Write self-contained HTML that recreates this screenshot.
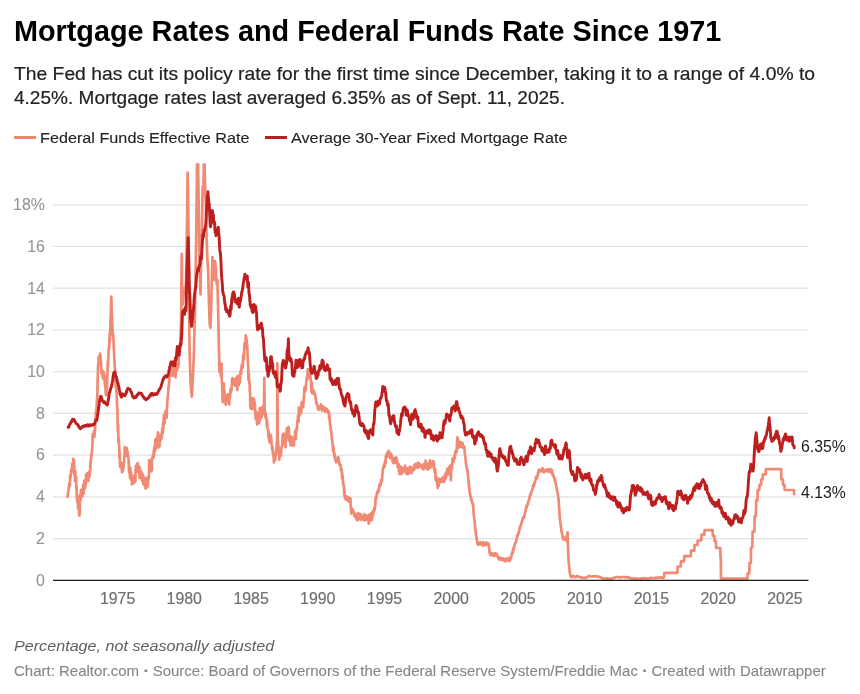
<!DOCTYPE html>
<html lang="en"><head><meta charset="utf-8"><title>Mortgage Rates and Federal Funds Rate Since 1971</title>
<style>
html,body{margin:0;padding:0;background:#fff;}
body{width:860px;height:694px;position:relative;overflow:hidden;font-family:"Liberation Sans",Arial,sans-serif;}
.abs{position:absolute;white-space:nowrap;margin:0;transform-origin:0 50%;}
h1.abs{left:14px;top:13.9px;font-size:29.8px;line-height:34px;font-weight:700;color:#000;}
.desc{-webkit-text-stroke:0.2px #222;left:14px;font-size:18.4px;line-height:24px;color:#222;}
.leg{-webkit-text-stroke:0.1px #222;font-size:15.4px;line-height:20px;color:#222;top:127.7px;}
.sw{position:absolute;height:2.8px;top:135.8px;width:21.6px;border-radius:0.5px;}
.note{left:14px;top:635.6px;font-size:15.2px;line-height:20px;font-style:italic;color:#606060;}
.bl{display:inline-block;width:4.83px;text-align:center;font-size:9.8px;vertical-align:1.5px;line-height:1;}
.by{-webkit-text-stroke:0.1px #868686;left:14px;top:662.7px;font-size:13.8px;line-height:18px;color:#868686;}
svg{position:absolute;left:0;top:0;}
svg text{font-family:"Liberation Sans",Arial,sans-serif;}
.tick{font-size:15.9px;fill:#969696;stroke:#969696;stroke-width:0.1px;}
.xt{fill:#707070 !important;stroke:#707070 !important;stroke-width:0.2px !important;}
.val{font-size:15.8px;fill:#1c1c1c;stroke:#fff;stroke-width:4px;stroke-linejoin:round;paint-order:stroke fill;}
</style></head><body>
<h1 class="abs" id="title" style="transform:scaleX(0.9664)">Mortgage Rates and Federal Funds Rate Since 1971</h1>
<p class="abs desc" id="d1" style="top:62.2px;transform:scaleX(1.049)">The Fed has cut its policy rate for the first time since December, taking it to a range of 4.0% to</p>
<p class="abs desc" id="d2" style="top:86.2px;transform:scaleX(1.035)">4.25%. Mortgage rates last averaged 6.35% as of Sept. 11, 2025.</p>
<span class="sw" style="left:14px;background:#ee866c"></span>
<span class="abs leg" id="l1" style="left:40px;transform:scaleX(1.053)">Federal Funds Effective Rate</span>
<span class="sw" style="left:265px;background:#b4201f"></span>
<span class="abs leg" id="l2" style="left:290.5px;transform:scaleX(1.053)">Average 30-Year Fixed Mortgage Rate</span>
<svg width="860" height="694" viewBox="0 0 860 694">
<defs><clipPath id="cp"><rect x="50" y="163.2" width="800" height="430"/></clipPath></defs>
<line x1="53" x2="808.5" y1="538.6" y2="538.6" stroke="#e2e2e2" stroke-width="1.2"/>
<line x1="53" x2="808.5" y1="496.9" y2="496.9" stroke="#e2e2e2" stroke-width="1.2"/>
<line x1="53" x2="808.5" y1="455.1" y2="455.1" stroke="#e2e2e2" stroke-width="1.2"/>
<line x1="53" x2="808.5" y1="413.4" y2="413.4" stroke="#e2e2e2" stroke-width="1.2"/>
<line x1="53" x2="808.5" y1="371.7" y2="371.7" stroke="#e2e2e2" stroke-width="1.2"/>
<line x1="53" x2="808.5" y1="330.0" y2="330.0" stroke="#e2e2e2" stroke-width="1.2"/>
<line x1="53" x2="808.5" y1="288.2" y2="288.2" stroke="#e2e2e2" stroke-width="1.2"/>
<line x1="53" x2="808.5" y1="246.5" y2="246.5" stroke="#e2e2e2" stroke-width="1.2"/>
<line x1="53" x2="808.5" y1="204.8" y2="204.8" stroke="#e2e2e2" stroke-width="1.2"/>

<text x="44.9" y="585.6" text-anchor="end" class="tick">0</text>
<text x="44.9" y="543.9" text-anchor="end" class="tick">2</text>
<text x="44.9" y="502.2" text-anchor="end" class="tick">4</text>
<text x="44.9" y="460.4" text-anchor="end" class="tick">6</text>
<text x="44.9" y="418.7" text-anchor="end" class="tick">8</text>
<text x="44.9" y="377.0" text-anchor="end" class="tick">10</text>
<text x="44.9" y="335.3" text-anchor="end" class="tick">12</text>
<text x="44.9" y="293.5" text-anchor="end" class="tick">14</text>
<text x="44.9" y="251.8" text-anchor="end" class="tick">16</text>
<text x="44.9" y="210.1" text-anchor="end" class="tick">18%</text>
<text x="117.6" y="603.8" text-anchor="middle" class="tick xt">1975</text>
<text x="184.3" y="603.8" text-anchor="middle" class="tick xt">1980</text>
<text x="251.1" y="603.8" text-anchor="middle" class="tick xt">1985</text>
<text x="317.8" y="603.8" text-anchor="middle" class="tick xt">1990</text>
<text x="384.5" y="603.8" text-anchor="middle" class="tick xt">1995</text>
<text x="451.2" y="603.8" text-anchor="middle" class="tick xt">2000</text>
<text x="518.0" y="603.8" text-anchor="middle" class="tick xt">2005</text>
<text x="584.7" y="603.8" text-anchor="middle" class="tick xt">2010</text>
<text x="651.4" y="603.8" text-anchor="middle" class="tick xt">2015</text>
<text x="718.2" y="603.8" text-anchor="middle" class="tick xt">2020</text>
<text x="784.9" y="603.8" text-anchor="middle" class="tick xt">2025</text>

<g clip-path="url(#cp)" fill="none" stroke-linejoin="round" stroke-linecap="round">
<path d="M67.6,496.9L68.1,492.7L68.6,489.6L69.2,484.3L69.7,482.3L69.9,486.0L70.2,475.4L70.4,475.2L70.7,477.4L70.9,474.0L71.2,469.8L71.4,470.4L71.7,469.1L72.0,472.0L72.2,464.1L72.5,464.3L72.7,463.4L73.0,469.5L73.2,458.9L73.5,464.0L73.8,466.4L74.0,460.0L74.3,468.6L74.5,475.0L74.8,473.2L75.0,480.9L75.3,471.1L75.6,477.4L75.8,479.9L76.1,476.8L76.3,489.6L76.6,486.0L76.8,498.4L77.1,497.2L77.3,502.1L77.6,496.2L77.9,498.3L78.1,508.4L78.4,505.5L78.6,509.9L78.9,508.4L79.1,513.8L79.4,515.6L79.7,513.4L79.9,503.5L80.2,494.6L80.4,499.0L80.7,500.0L80.9,490.2L81.2,494.2L81.5,493.0L81.7,492.0L82.0,492.8L82.2,492.9L82.5,496.2L82.7,488.9L83.0,490.0L83.3,484.8L83.5,489.1L83.8,493.5L84.0,487.0L84.3,480.6L84.5,487.1L84.8,488.4L85.0,488.2L85.3,486.5L85.6,482.8L85.8,484.5L86.1,474.9L86.3,480.5L86.6,478.9L86.8,474.1L87.1,473.4L87.4,478.3L87.6,475.7L87.9,473.5L88.1,475.8L88.4,481.0L88.6,472.8L88.9,471.9L89.2,473.4L89.4,477.0L89.7,473.2L89.9,473.2L90.2,471.0L90.4,463.8L90.7,460.1L91.0,460.0L91.2,457.5L91.5,454.1L91.7,453.3L92.0,450.5L92.2,449.4L92.5,444.2L92.7,433.9L93.0,436.0L93.3,437.6L93.5,435.6L93.8,435.2L94.0,431.0L94.3,430.8L94.5,436.7L94.8,430.1L95.1,430.2L95.3,420.1L95.6,420.8L95.8,412.2L96.1,416.2L96.3,412.5L96.6,407.4L96.9,401.8L97.1,398.2L97.4,395.0L97.6,381.1L97.9,372.5L98.1,364.8L98.4,365.0L98.7,356.5L98.9,363.2L99.2,364.2L99.4,358.2L99.7,358.6L99.9,357.9L100.2,353.7L100.4,355.0L100.7,359.2L101.0,360.8L101.2,366.8L101.5,373.5L101.7,372.6L102.0,373.0L102.2,370.5L102.5,374.7L102.8,377.4L103.0,371.4L103.3,376.6L103.5,379.0L103.8,372.0L104.0,377.0L104.3,374.4L104.6,379.3L104.8,382.7L105.1,386.4L105.3,387.3L105.6,389.7L105.8,394.8L106.1,392.9L106.4,395.3L106.6,388.2L106.9,392.5L107.1,384.0L107.4,375.5L107.6,368.6L107.9,360.9L108.1,366.2L108.4,354.7L108.7,349.3L108.9,346.2L109.2,348.7L109.4,341.0L109.7,333.2L109.9,341.4L110.2,331.8L110.4,323.7L110.9,309.1L111.3,296.6L111.7,311.2L112.3,323.7L112.8,335.0L113.0,335.6L113.3,335.2L113.5,339.7L113.8,350.2L114.0,349.7L114.3,359.7L114.6,363.0L114.8,369.4L115.1,369.3L115.3,375.9L115.6,385.4L115.8,386.8L116.1,383.7L116.4,391.4L116.6,391.2L116.9,398.5L117.1,407.1L117.4,407.7L117.6,420.8L117.9,431.7L118.2,424.7L118.4,442.2L118.7,438.0L118.9,441.3L119.2,448.2L119.4,458.0L119.7,452.4L120.0,463.9L120.2,467.0L120.5,466.0L120.7,462.4L121.0,464.3L121.2,462.8L121.5,467.3L121.7,467.6L122.0,472.2L122.3,470.7L122.5,469.0L122.8,471.3L123.0,467.2L123.3,469.1L123.5,467.6L123.8,463.5L124.1,461.6L124.3,456.4L124.6,455.1L124.8,447.2L125.1,453.6L125.3,453.4L125.6,455.9L125.9,452.2L126.1,449.6L126.4,453.9L126.6,451.1L126.9,448.0L127.1,451.2L127.4,454.6L127.7,451.6L127.9,456.5L128.2,457.6L128.4,457.9L128.7,460.8L128.9,468.7L129.2,472.2L129.4,470.5L129.7,472.0L130.0,478.0L130.2,467.5L130.5,472.3L130.7,471.5L131.0,479.4L131.2,472.8L131.5,480.7L131.8,479.5L132.0,484.3L132.3,480.7L132.5,481.4L132.8,481.2L133.0,478.8L133.3,479.7L133.6,476.3L133.8,480.9L134.1,482.8L134.3,479.6L134.6,477.6L134.8,475.6L135.1,474.8L135.4,481.1L135.6,471.7L135.9,465.8L136.1,469.1L136.4,470.1L136.6,466.5L136.9,468.3L137.1,464.1L137.4,467.1L137.7,463.2L137.9,467.0L138.2,471.9L138.4,467.6L138.7,466.6L138.9,471.7L139.2,471.3L139.5,477.8L139.7,467.3L140.0,472.4L140.2,477.7L140.5,477.1L140.7,473.0L141.0,470.8L141.3,474.8L141.5,474.0L141.8,479.6L142.0,480.7L142.3,473.6L142.5,475.3L142.8,478.1L143.1,475.2L143.3,484.1L143.6,483.7L143.8,479.9L144.1,477.4L144.3,483.7L144.6,478.3L144.8,486.1L145.1,482.7L145.4,484.0L145.6,488.4L145.9,481.9L146.1,479.5L146.4,483.1L146.6,482.8L146.9,477.8L147.2,486.6L147.4,487.2L147.7,484.2L147.9,485.8L148.2,477.1L148.4,477.6L148.7,478.5L149.0,474.7L149.2,460.1L149.5,470.6L149.7,470.9L150.0,467.2L150.2,465.9L150.5,467.1L150.8,470.7L151.0,471.4L151.3,465.4L151.5,467.4L151.8,470.4L152.0,458.7L152.3,457.7L152.5,458.8L152.8,457.3L153.1,454.5L153.3,456.4L153.6,457.5L153.8,450.6L154.1,454.9L154.3,447.2L154.6,451.7L154.9,445.7L155.1,445.6L155.4,439.0L155.6,448.3L155.9,449.3L156.1,446.5L156.4,447.8L156.7,445.8L156.9,442.2L157.2,440.6L157.4,437.0L157.7,444.3L157.9,432.4L158.2,433.9L158.5,440.8L158.7,447.4L159.0,439.7L159.2,438.7L159.5,446.5L159.7,438.5L160.0,439.4L160.2,441.3L160.5,436.4L160.8,434.7L161.0,439.2L161.3,436.3L161.5,438.8L161.8,436.9L162.0,431.8L162.3,428.0L162.6,429.4L162.8,433.4L163.1,422.9L163.3,429.0L163.6,422.1L163.8,415.5L164.1,420.5L164.4,423.4L164.6,423.3L164.9,413.5L165.1,416.3L165.4,413.4L165.6,411.0L165.9,413.1L166.2,412.3L166.4,412.4L166.7,417.6L166.9,410.4L167.2,403.4L167.4,401.3L167.7,396.9L167.9,396.3L168.2,392.9L168.5,386.9L168.7,388.6L169.0,382.8L169.2,383.3L169.5,372.6L169.7,374.4L170.0,371.6L170.3,366.8L170.5,367.4L170.8,371.0L171.0,368.0L171.3,375.2L171.5,368.8L171.8,369.8L172.1,375.7L172.3,365.9L172.6,372.8L172.8,368.1L173.1,371.6L173.3,366.7L173.6,365.5L173.8,372.7L174.1,375.4L174.4,371.1L174.6,368.3L174.9,372.7L175.1,372.4L175.4,367.6L175.6,377.4L175.9,369.3L176.2,371.1L176.4,365.3L176.7,368.5L176.9,369.5L177.2,366.5L177.4,369.4L177.7,363.7L178.0,367.7L178.2,364.6L178.5,364.9L178.7,350.7L179.0,355.9L179.3,352.9L180.3,342.5L181.1,321.6L181.5,275.7L181.8,253.8L182.1,284.1L182.5,304.9L183.3,298.7L183.9,288.2L184.7,294.5L185.4,290.3L186.1,279.9L186.6,246.5L187.1,217.3L187.6,172.5L188.1,200.6L188.6,234.0L189.1,317.4L189.7,355.0L190.5,382.1L191.3,392.5L191.8,396.7L192.6,384.2L193.3,367.5L193.9,352.9L194.5,327.9L195.0,309.1L195.7,269.5L196.2,240.3L196.6,202.7L197.0,171.4L197.3,138.0L197.9,150.6L198.3,179.8L198.9,217.3L199.4,248.6L199.9,275.7L200.5,294.5L201.0,263.2L201.7,252.8L202.3,206.9L202.7,186.0L203.3,194.4L203.7,173.5L204.2,142.2L204.7,173.5L205.3,192.3L206.0,209.0L206.6,238.2L207.3,257.0L208.1,269.5L208.9,300.8L209.7,323.7L210.4,327.9L211.0,311.2L211.7,286.2L212.4,257.0L212.9,277.8L213.7,279.9L214.4,267.4L215.0,261.1L215.8,267.4L216.6,284.1L217.4,279.9L218.1,307.0L218.8,342.5L219.4,371.7L220.4,363.3L220.8,376.2L221.1,367.8L221.3,372.4L221.6,363.8L221.8,382.2L222.1,382.5L222.4,393.4L222.6,401.2L222.9,402.2L223.1,387.0L223.4,400.2L223.6,384.6L223.9,383.6L224.2,397.4L224.4,391.1L224.7,397.2L224.9,395.5L225.2,400.8L225.4,397.7L225.7,404.8L226.0,400.4L226.2,403.5L226.5,401.1L226.7,397.3L227.0,397.6L227.2,397.5L227.5,394.7L227.7,394.3L228.0,401.5L228.3,394.9L228.5,395.3L228.8,400.9L229.0,397.9L229.3,404.4L229.5,394.3L229.8,398.3L230.1,396.0L230.3,390.1L230.6,392.8L230.8,388.5L231.1,392.1L231.3,388.6L231.6,389.5L231.9,384.6L232.1,379.6L232.4,381.3L232.6,378.2L232.9,384.6L233.1,384.7L233.4,383.8L233.7,380.9L233.9,381.9L234.2,383.0L234.4,380.7L234.7,383.2L234.9,382.6L235.2,378.9L235.4,385.8L235.7,383.9L236.0,379.9L236.2,384.7L236.5,382.1L236.7,385.8L237.0,376.6L237.2,390.1L237.5,386.0L237.8,385.3L238.0,375.9L238.3,379.7L238.5,381.6L238.8,384.9L239.0,379.2L239.3,379.9L239.6,381.5L239.8,382.7L240.1,379.8L240.3,373.9L240.6,371.9L240.8,370.9L241.1,369.8L241.3,373.4L241.6,365.5L241.9,368.9L242.1,365.2L242.4,363.7L242.6,367.3L242.9,366.1L243.1,355.8L243.4,354.3L243.7,354.1L243.9,359.3L244.2,348.6L244.4,345.6L244.7,343.1L244.9,348.3L245.2,345.6L245.5,342.3L245.7,335.4L246.0,339.6L246.2,336.6L246.5,341.6L246.7,339.9L247.0,348.3L247.3,345.4L247.5,354.6L247.8,360.0L248.0,363.8L248.3,368.1L248.5,380.3L248.8,373.9L249.0,378.1L249.3,383.7L249.6,382.3L249.8,391.4L250.1,392.7L250.3,404.1L250.6,408.4L250.8,401.6L251.1,398.6L251.4,403.8L251.6,403.1L251.9,407.0L252.1,409.1L252.4,404.7L252.6,398.2L252.9,408.9L253.2,404.0L253.4,408.3L253.7,401.2L253.9,398.9L254.2,407.4L254.4,406.2L254.7,401.9L255.0,408.1L255.2,413.4L255.5,415.1L255.7,418.8L256.0,411.0L256.2,417.9L256.5,414.1L256.7,416.8L257.0,424.0L257.3,424.4L257.5,418.4L257.8,418.8L258.0,416.7L258.3,421.4L258.5,412.8L258.8,418.6L259.1,423.2L259.3,417.6L259.6,414.0L259.8,408.3L260.1,416.5L260.3,419.6L260.6,407.9L260.9,414.1L261.1,415.2L261.4,417.5L261.6,417.0L261.9,408.4L262.1,413.9L262.4,414.5L262.7,414.2L262.9,406.4L263.2,412.6L263.4,407.4L263.7,407.6L264.0,409.2L264.3,377.9L264.7,411.3L265.0,410.7L265.2,414.9L265.5,417.5L265.7,413.9L266.0,416.8L266.2,417.9L266.5,419.3L266.8,426.1L267.0,420.4L267.3,424.3L267.5,427.7L267.8,429.0L268.0,429.0L268.3,434.3L268.6,438.0L268.8,431.9L269.1,437.9L269.3,439.6L269.6,442.4L269.8,436.8L270.1,440.0L270.4,437.9L270.6,435.0L270.9,438.1L271.1,436.6L271.4,440.7L271.6,444.8L271.9,446.4L272.1,448.9L272.4,446.9L272.7,450.9L272.9,453.9L273.2,451.0L273.4,454.9L273.7,458.1L273.9,462.5L274.2,456.2L274.5,457.1L274.7,457.9L275.0,459.7L275.2,460.1L275.5,457.2L275.7,454.7L276.0,455.0L276.3,452.0L276.5,448.9L276.8,442.0L277.1,448.9L277.4,363.3L277.8,442.6L278.1,441.1L278.3,446.6L278.6,448.4L278.8,453.2L279.1,448.4L279.3,459.6L279.6,454.3L279.8,453.9L280.1,449.8L280.4,452.5L280.6,455.3L280.9,455.6L281.1,452.2L281.4,448.2L281.6,447.2L281.9,445.8L282.2,445.1L282.4,441.2L282.7,434.8L282.9,441.5L283.2,438.3L283.4,433.5L283.7,437.7L284.0,441.7L284.2,438.7L284.5,444.1L284.7,442.3L285.0,437.8L285.2,436.0L285.5,447.3L285.8,438.5L286.0,433.6L286.3,440.2L286.5,435.1L286.8,428.6L287.0,432.9L287.3,428.1L287.5,429.4L287.8,435.3L288.1,427.4L288.3,428.8L288.6,428.0L288.8,427.0L289.1,434.6L289.3,441.0L289.6,439.0L289.9,439.4L290.1,436.3L290.4,444.1L290.6,442.9L290.9,445.5L291.1,436.4L291.4,438.2L291.7,440.0L291.9,441.4L292.2,442.1L292.4,444.5L292.7,443.7L292.9,444.7L293.2,438.4L293.5,442.0L293.7,445.8L294.0,444.5L294.2,437.2L294.5,438.3L294.7,437.4L295.0,434.6L295.2,430.6L295.5,438.9L295.8,436.3L296.0,438.6L296.3,429.4L296.5,430.3L296.8,429.2L297.0,427.5L297.3,420.9L297.6,422.6L297.8,422.7L298.1,415.6L298.3,422.1L298.6,421.6L298.8,407.5L299.1,416.1L299.4,415.4L299.6,415.1L299.9,412.2L300.1,408.3L300.4,407.5L300.6,407.5L300.9,409.7L301.2,413.2L301.4,406.7L301.7,402.1L301.9,403.3L302.2,407.2L302.4,403.8L302.7,407.5L302.9,405.0L303.2,406.9L303.5,401.9L303.7,398.4L304.0,397.5L304.2,392.7L304.5,387.2L304.7,387.4L305.0,391.1L305.3,391.3L305.5,389.9L305.8,389.8L306.0,385.3L306.3,382.1L306.5,380.5L306.8,378.1L307.1,375.9L307.3,375.3L307.6,377.4L307.8,369.2L308.1,371.5L308.3,378.1L308.6,378.2L308.8,377.3L309.1,375.3L309.4,371.4L309.6,373.2L309.9,374.3L310.1,375.6L310.4,376.9L310.6,379.5L310.9,381.8L311.2,385.1L311.4,392.0L311.7,388.0L311.9,382.7L312.2,391.8L312.4,393.2L312.7,390.9L313.0,392.5L313.2,393.2L313.5,390.1L313.7,391.3L314.0,391.3L314.2,394.1L314.5,393.4L314.8,394.5L315.0,394.8L315.3,395.6L315.5,397.0L315.8,399.8L316.0,400.5L316.3,403.9L316.5,401.8L316.8,402.2L317.1,404.3L317.3,405.5L317.6,405.5L317.8,408.3L318.1,407.1L318.3,408.2L318.6,410.0L318.9,408.4L319.1,406.9L319.4,406.9L319.6,406.8L319.9,408.3L320.1,408.4L320.4,408.3L320.7,406.7L320.9,404.3L321.2,405.7L321.4,405.6L321.7,406.0L321.9,410.7L322.2,409.1L322.5,409.8L322.7,407.7L323.0,406.8L323.2,409.7L323.5,408.2L323.7,406.9L324.0,408.3L324.2,409.2L324.5,409.9L324.8,408.3L325.0,411.6L325.3,408.7L325.5,410.3L325.8,409.5L326.0,408.4L326.3,411.5L326.6,411.3L326.8,409.2L327.1,411.0L327.3,410.4L327.6,410.0L327.8,410.0L328.1,412.5L328.4,411.7L328.6,411.7L328.9,412.0L329.1,418.3L329.4,415.0L329.6,417.7L329.9,423.0L330.2,425.9L330.4,425.6L330.7,429.1L330.9,430.2L331.2,430.7L331.4,434.9L331.7,435.8L331.9,438.4L332.2,440.8L332.5,442.4L332.7,445.7L333.0,449.9L333.2,451.4L333.5,447.1L333.7,451.0L334.0,452.2L334.3,456.0L334.5,453.5L334.8,457.5L335.0,457.9L335.3,460.1L335.5,459.2L335.8,458.8L336.1,462.3L336.3,461.0L336.6,458.9L336.8,460.5L337.1,459.9L337.3,458.9L337.6,460.4L337.9,457.0L338.1,460.4L338.4,457.5L338.6,457.9L338.9,462.7L339.1,461.1L339.4,462.9L339.6,465.0L339.9,464.5L340.2,465.4L340.4,464.6L340.7,465.1L340.9,470.2L341.2,470.1L341.4,469.5L341.7,469.4L342.0,478.1L342.2,473.1L342.5,477.7L342.7,476.4L343.0,482.0L343.2,484.6L343.5,484.8L343.8,484.5L344.0,488.5L344.3,494.9L344.5,491.1L344.8,497.3L345.0,498.1L345.3,498.3L345.6,499.4L345.8,498.1L346.1,497.5L346.3,497.0L346.6,496.3L346.8,497.3L347.1,499.8L347.3,498.0L347.6,497.1L347.9,498.3L348.1,501.0L348.4,501.3L348.6,500.4L348.9,499.1L349.1,498.0L349.4,501.4L349.7,501.3L349.9,498.3L350.2,498.4L350.4,498.8L350.7,507.1L350.9,505.5L351.2,513.7L351.5,508.7L351.7,512.4L352.0,512.2L352.2,512.3L352.5,509.3L352.7,512.1L353.0,509.8L353.3,511.1L353.5,511.8L353.8,512.0L354.0,513.1L354.3,516.0L354.5,513.1L354.8,513.7L355.0,515.9L355.3,514.3L355.6,514.0L355.8,518.2L356.1,516.1L356.3,517.2L356.6,518.9L356.8,517.4L357.1,520.4L357.4,520.0L357.6,518.3L357.9,517.6L358.1,517.2L358.4,513.1L358.6,518.2L358.9,516.7L359.2,519.4L359.4,516.2L359.7,514.8L359.9,514.5L360.2,517.8L360.4,516.9L360.7,514.1L361.0,517.1L361.2,515.7L361.5,519.8L361.7,516.0L362.0,516.4L362.2,517.3L362.5,519.5L362.7,518.1L363.0,517.3L363.3,516.9L363.5,517.4L363.8,517.4L364.0,516.5L364.3,514.1L364.5,520.4L364.8,519.1L365.1,519.4L365.3,517.9L365.6,520.0L365.8,515.9L366.1,516.9L366.3,517.4L366.6,517.9L366.9,516.0L367.1,515.7L367.4,515.4L367.6,517.8L367.9,515.7L368.1,520.2L368.4,515.6L368.7,523.6L368.9,518.8L369.2,519.7L369.4,515.9L369.7,520.3L369.9,514.4L370.2,521.0L370.4,514.6L370.7,517.6L371.0,517.9L371.2,516.7L371.5,513.0L371.7,515.0L372.0,519.9L372.2,512.5L372.5,513.3L372.8,515.9L373.0,510.8L373.3,514.1L373.5,511.0L373.8,510.5L374.0,511.5L374.3,508.0L374.6,510.1L374.8,506.7L375.1,507.1L375.3,504.2L375.6,498.1L375.8,499.3L376.1,499.4L376.3,496.1L376.6,496.2L376.9,493.5L377.1,492.1L377.4,491.5L377.6,491.4L377.9,492.6L378.1,490.6L378.4,489.4L378.7,491.6L378.9,489.5L379.2,488.3L379.4,485.0L379.7,484.2L379.9,486.3L380.2,483.6L380.5,485.3L380.7,483.4L381.0,481.4L381.2,480.1L381.5,479.4L381.7,481.6L382.0,481.0L382.3,475.2L382.5,473.7L382.8,470.0L383.0,469.1L383.3,467.3L383.5,466.7L383.8,465.5L384.0,467.3L384.3,464.2L384.6,466.7L384.8,465.2L385.1,461.4L385.3,462.4L385.6,463.4L385.8,456.5L386.1,455.6L386.4,454.5L386.6,456.0L386.9,455.4L387.1,456.2L387.4,456.8L387.6,452.2L387.9,455.5L388.2,455.3L388.4,454.9L388.7,450.8L388.9,452.8L389.2,455.4L389.4,454.9L389.7,454.0L390.0,453.4L390.2,458.1L390.5,453.4L390.7,455.8L391.0,457.4L391.2,457.6L391.5,456.1L391.7,455.0L392.0,458.5L392.3,458.3L392.5,461.4L392.8,459.5L393.0,458.8L393.3,462.9L393.5,460.7L393.8,458.0L394.1,462.7L394.3,460.3L394.6,458.6L394.8,463.1L395.1,460.9L395.3,459.8L395.6,458.1L395.9,462.0L396.1,457.3L396.4,459.4L396.6,458.7L396.9,459.7L397.1,462.2L397.4,462.6L397.7,467.0L397.9,466.5L398.2,466.0L398.4,465.0L398.7,464.2L398.9,470.9L399.2,469.8L399.4,473.3L399.7,474.0L400.0,467.9L400.2,470.1L400.5,466.7L400.7,467.4L401.0,471.8L401.2,474.0L401.5,467.1L401.8,472.2L402.0,473.5L402.3,469.9L402.5,470.9L402.8,472.3L403.0,471.5L403.3,470.4L403.6,470.5L403.8,469.0L404.1,470.8L404.3,470.2L404.6,467.8L404.8,467.7L405.1,465.6L405.4,469.0L405.6,469.6L405.9,472.4L406.1,468.3L406.4,473.8L406.6,470.4L406.9,472.1L407.1,469.4L407.4,468.4L407.7,473.2L407.9,470.8L408.2,474.0L408.4,468.4L408.7,471.5L408.9,473.3L409.2,471.3L409.5,467.2L409.7,466.8L410.0,467.3L410.2,471.3L410.5,470.2L410.7,466.9L411.0,471.6L411.3,471.0L411.5,472.4L411.8,473.0L412.0,468.8L412.3,470.2L412.5,470.8L412.8,470.8L413.1,469.5L413.3,467.6L413.6,469.5L413.8,469.1L414.1,469.6L414.3,465.1L414.6,467.5L414.8,468.7L415.1,465.9L415.4,465.4L415.6,463.9L415.9,463.6L416.1,466.9L416.4,466.9L416.6,465.7L416.9,467.1L417.2,464.7L417.4,463.5L417.7,464.5L417.9,467.8L418.2,467.2L418.4,462.7L418.7,467.0L419.0,463.6L419.2,463.7L419.5,465.4L419.7,466.6L420.0,464.3L420.2,466.4L420.5,465.1L420.8,464.6L421.0,466.3L421.3,465.6L421.5,466.0L421.8,467.9L422.0,465.8L422.3,466.6L422.5,468.7L422.8,465.8L423.1,465.7L423.3,466.4L423.6,469.3L423.8,464.0L424.1,464.2L424.3,464.0L424.6,464.3L424.9,467.0L425.1,464.1L425.4,466.3L425.6,460.7L425.9,466.0L426.1,464.0L426.4,468.3L426.7,467.7L426.9,466.6L427.2,464.4L427.4,464.8L427.7,465.5L427.9,469.7L428.2,464.3L428.5,468.3L428.7,463.4L429.0,462.7L429.2,464.5L429.5,464.0L429.7,467.9L430.0,460.4L430.2,464.5L430.5,462.7L430.8,466.0L431.0,464.6L431.3,466.8L431.5,465.1L431.8,464.7L432.0,464.2L432.3,462.0L432.6,463.7L432.8,464.1L433.1,464.6L433.3,461.1L433.6,466.1L433.8,463.0L434.1,469.7L434.4,469.8L434.6,469.5L434.9,472.7L435.1,468.9L435.4,470.8L435.6,479.7L435.9,480.0L436.2,479.4L436.4,476.8L436.7,478.6L436.9,480.9L437.2,484.8L437.4,484.3L437.7,488.0L437.9,486.1L438.2,482.7L438.5,482.2L438.7,485.5L439.0,482.3L439.2,478.8L439.5,480.9L439.7,481.4L440.0,479.4L440.3,479.4L440.5,480.0L440.8,481.1L441.0,481.2L441.3,480.6L441.5,482.1L441.8,478.9L442.1,479.7L442.3,479.4L442.6,477.6L442.8,478.4L443.1,478.7L443.3,480.6L443.6,481.5L443.8,476.7L444.1,481.9L444.4,480.7L444.6,480.0L444.9,476.9L445.1,475.4L445.4,473.9L445.6,475.8L445.9,478.3L446.2,474.1L446.4,472.2L446.7,473.3L446.9,472.9L447.2,470.8L447.4,468.7L447.7,471.6L448.0,474.3L448.2,472.8L448.5,472.1L448.7,474.1L449.0,468.3L449.2,470.1L449.5,466.6L449.8,467.2L450.0,468.8L450.3,465.7L450.4,466.6L450.9,480.2L451.2,467.6L451.8,468.4L452.1,464.0L452.3,462.8L452.6,458.7L452.8,461.6L453.1,460.0L453.3,460.9L453.6,462.0L453.9,458.5L454.1,456.4L454.4,459.1L454.6,457.6L454.9,457.7L455.1,452.2L455.4,454.7L455.7,451.2L455.9,452.7L456.2,449.8L456.4,449.8L456.7,451.8L457.0,443.7L457.5,437.4L458.1,444.7L458.2,445.9L458.5,444.3L458.7,447.7L459.0,443.8L459.2,442.2L459.5,447.0L459.8,444.8L460.0,441.9L460.3,444.2L460.5,445.3L460.8,446.0L461.0,444.0L461.3,444.6L461.6,443.3L461.8,447.3L462.1,442.5L462.3,445.3L462.6,443.3L462.8,445.9L463.1,447.3L463.4,446.4L463.6,447.7L463.9,447.1L464.1,446.2L464.4,447.5L464.6,451.4L464.9,453.9L465.2,455.9L465.4,457.5L465.7,459.4L465.9,462.9L466.2,465.1L466.4,466.9L466.7,467.1L466.9,467.4L467.2,471.1L467.5,470.2L467.7,473.2L468.0,477.0L468.2,477.5L468.5,480.2L468.7,482.7L469.0,486.8L469.3,487.1L469.5,491.4L469.8,493.5L470.0,493.3L470.3,495.1L470.5,496.1L470.8,497.0L471.1,500.3L471.3,498.5L471.6,500.9L471.8,501.4L472.1,501.6L472.3,503.3L472.6,503.2L472.9,503.4L473.1,506.0L473.4,508.4L473.6,512.8L473.9,515.3L474.1,518.0L474.4,519.7L474.6,520.0L474.9,525.4L475.2,528.5L475.4,530.3L475.7,531.5L475.9,533.6L476.2,536.9L476.4,536.8L476.7,538.9L477.0,539.6L477.2,542.9L477.5,543.6L477.7,542.5L478.0,544.7L478.2,543.5L478.5,544.0L478.8,544.1L479.0,543.9L479.3,543.9L479.5,543.7L479.8,544.3L480.0,544.1L480.3,542.0L480.6,543.3L480.8,543.7L481.1,543.8L481.3,544.5L481.6,543.7L481.8,544.0L482.1,543.1L482.3,544.5L482.6,545.5L482.9,544.2L483.1,543.3L483.4,542.0L483.6,543.0L483.9,544.5L484.1,544.0L484.4,544.6L484.7,544.2L484.9,544.8L485.2,545.4L485.4,543.8L485.7,544.0L485.9,544.2L486.2,543.8L486.5,542.5L486.7,543.8L487.0,544.1L487.2,543.2L487.5,545.0L487.7,543.2L488.0,544.4L488.3,544.4L488.5,543.7L488.8,544.5L489.0,548.3L489.3,549.0L489.5,551.4L489.8,553.7L490.0,552.5L490.3,554.2L490.6,555.2L490.8,555.0L491.1,555.0L491.3,554.0L491.6,555.0L491.8,553.3L492.1,554.2L492.4,554.8L492.6,554.8L492.9,553.9L493.1,555.5L493.4,555.7L493.6,554.8L493.9,553.7L494.2,554.1L494.4,554.1L494.7,554.3L494.9,555.7L495.2,554.3L495.4,555.3L495.7,553.4L496.0,554.0L496.2,554.1L496.5,553.9L496.7,554.1L497.0,554.4L497.2,554.5L497.5,555.6L497.7,557.2L498.0,557.0L498.3,557.2L498.5,558.5L498.8,559.3L499.0,558.6L499.3,559.3L499.5,558.6L499.8,559.3L500.1,558.9L500.3,557.6L500.6,558.6L500.8,558.1L501.1,559.8L501.3,559.7L501.6,559.3L501.9,558.8L502.1,559.4L502.4,558.6L502.6,559.8L502.9,558.4L503.1,558.8L503.4,560.4L503.7,559.3L503.9,560.0L504.2,559.1L504.4,560.1L504.7,559.4L504.9,559.1L505.2,561.4L505.4,560.8L505.7,559.2L506.0,559.4L506.2,558.5L506.5,559.1L506.7,560.2L507.0,559.1L507.2,560.0L507.5,559.6L507.8,559.8L508.0,559.2L508.3,560.5L508.5,560.3L508.8,561.1L509.0,557.9L509.3,560.2L509.6,560.1L509.8,560.2L510.1,559.7L510.3,559.4L510.6,558.5L510.8,558.3L511.1,557.1L511.3,556.7L511.6,555.2L511.9,553.1L512.1,553.2L512.4,552.2L512.6,553.0L512.9,550.4L513.1,549.7L513.4,548.1L513.7,550.2L513.9,547.3L514.2,546.6L514.4,545.7L514.7,545.5L514.9,544.2L515.2,543.1L515.5,542.7L515.7,542.2L516.0,541.3L516.2,540.6L516.5,539.3L516.7,538.7L517.0,538.6L517.3,535.0L517.5,536.3L517.8,534.6L518.0,534.9L518.3,533.5L518.5,533.5L518.8,531.7L519.0,531.3L519.3,530.5L519.6,528.3L519.8,526.8L520.1,526.9L520.3,526.4L520.6,526.6L520.8,525.3L521.1,524.1L521.4,524.1L521.6,522.2L521.9,522.2L522.1,520.9L522.4,520.5L522.6,519.5L522.9,517.9L523.2,517.3L523.4,517.2L523.7,518.0L523.9,517.6L524.2,516.6L524.4,516.9L524.7,513.7L525.0,513.2L525.2,512.3L525.5,511.7L525.7,509.4L526.0,509.1L526.2,506.3L526.5,506.7L526.7,507.4L527.0,505.3L527.3,505.6L527.5,504.9L527.8,504.0L528.0,503.1L528.3,502.1L528.5,500.9L528.8,500.1L529.1,499.9L529.3,499.3L529.6,497.8L529.8,496.1L530.1,495.0L530.3,493.5L530.6,495.1L530.9,493.3L531.1,492.9L531.4,492.4L531.6,491.4L531.9,491.0L532.1,490.1L532.4,489.4L532.7,487.7L532.9,486.2L533.2,485.2L533.4,486.3L533.7,486.2L533.9,485.1L534.2,484.9L534.4,482.6L534.7,482.9L535.0,481.3L535.2,481.4L535.5,480.0L535.7,478.8L536.0,477.1L536.2,478.0L536.5,476.9L536.8,478.4L537.0,477.5L537.3,477.0L537.5,476.2L537.8,474.3L538.0,473.0L538.3,473.4L538.6,470.6L538.8,471.8L539.1,469.6L539.3,470.7L539.6,470.7L539.8,471.0L540.1,470.8L540.4,470.8L540.6,471.3L540.9,470.3L541.1,470.6L541.4,470.3L541.6,470.9L541.9,470.3L542.1,471.4L542.4,468.2L542.7,471.3L542.9,471.2L543.2,470.2L543.4,470.0L543.7,471.5L543.9,472.2L544.2,472.0L544.5,471.7L544.7,471.5L545.0,471.0L545.2,470.1L545.5,470.0L545.7,471.2L546.0,470.3L546.3,470.0L546.5,469.6L546.8,470.7L547.0,471.2L547.3,470.1L547.5,469.5L547.8,471.1L548.1,469.3L548.3,469.5L548.6,471.0L548.8,472.0L549.1,471.3L549.3,471.1L549.6,470.4L549.8,472.0L550.1,469.1L550.4,469.1L550.6,471.4L550.9,472.2L551.1,470.9L551.4,470.4L551.6,469.7L551.9,470.1L552.2,471.9L552.4,474.4L552.7,473.7L552.9,474.6L553.2,476.1L553.4,476.1L553.7,476.5L554.0,477.2L554.2,478.4L554.5,478.2L554.7,480.4L555.0,479.2L555.2,481.7L555.5,482.0L555.8,484.2L556.0,484.7L556.3,486.4L556.5,487.1L556.8,489.3L557.0,491.1L557.3,491.3L557.5,492.6L557.8,494.9L558.1,495.8L558.3,497.9L558.6,498.1L558.8,503.1L559.1,507.4L559.3,510.1L559.6,516.5L559.9,519.1L560.1,520.7L560.4,523.0L560.6,525.2L560.9,525.8L561.1,527.3L561.4,531.7L561.7,531.3L561.9,533.0L562.2,534.6L562.4,534.8L562.7,537.5L562.9,537.9L563.2,539.4L563.5,539.2L563.7,538.3L564.0,539.2L564.2,538.7L564.5,539.4L564.7,539.2L565.0,537.9L565.2,538.0L565.5,539.3L565.8,539.4L566.0,536.7L566.3,539.1L566.5,539.9L566.8,539.8L567.0,541.6L567.2,538.6L567.6,532.3L568.0,548.0L568.3,555.1L568.6,560.2L568.8,563.1L569.1,565.7L569.4,568.7L569.6,570.9L569.9,572.8L570.1,574.0L570.4,575.1L570.6,576.2L570.9,577.0L571.2,577.0L571.4,577.1L571.7,577.1L571.9,577.2L572.2,576.8L572.4,576.5L572.7,576.2L572.9,575.8L573.2,575.8L573.5,576.0L573.7,576.2L574.0,576.4L574.2,576.6L574.5,576.7L574.7,576.9L575.0,577.0L575.3,577.2L575.5,577.0L575.8,576.9L576.0,576.7L576.3,576.6L576.5,576.4L576.8,576.3L577.1,576.2L577.3,576.0L577.6,576.0L577.8,576.2L578.1,576.5L578.3,576.7L578.6,577.0L578.8,577.0L579.1,577.0L579.4,577.0L579.6,577.0L579.9,577.0L580.1,577.0L580.4,577.1L580.6,577.1L580.9,577.2L581.2,577.4L581.4,577.5L581.7,577.7L581.9,577.8L582.2,577.8L582.4,577.8L582.7,577.8L583.0,577.8L583.2,577.8L583.5,577.8L583.7,577.8L584.0,577.8L584.2,577.8L584.5,577.9L584.8,577.9L585.0,578.0L585.3,578.0L585.5,577.9L585.8,577.8L586.0,577.7L586.3,577.6L586.5,577.5L586.8,577.3L587.1,577.2L587.3,577.1L587.6,576.9L587.8,576.7L588.1,576.5L588.3,576.3L588.6,576.1L588.9,576.1L589.1,576.1L589.4,576.1L589.6,576.1L589.9,576.2L590.1,576.3L590.4,576.4L590.7,576.5L590.9,576.5L591.2,576.5L591.4,576.5L591.7,576.5L591.9,576.5L592.2,576.5L592.5,576.4L592.7,576.4L593.0,576.4L593.2,576.3L593.5,576.3L593.7,576.3L594.0,576.3L594.2,576.3L594.5,576.3L594.8,576.3L595.0,576.3L595.3,576.3L595.5,576.3L595.8,576.3L596.0,576.3L596.3,576.3L596.6,576.4L596.8,576.4L597.1,576.5L597.3,576.5L597.6,576.6L597.8,576.6L598.1,576.7L598.4,576.7L598.6,576.8L598.9,576.8L599.1,576.8L599.4,576.9L599.6,576.9L599.9,577.0L600.2,577.1L600.4,577.2L600.7,577.3L600.9,577.4L601.2,577.6L601.4,577.8L601.7,578.0L601.9,578.2L602.2,578.3L602.5,578.3L602.7,578.4L603.0,578.4L603.2,578.4L603.5,578.4L603.7,578.4L604.0,578.4L604.3,578.5L604.5,578.6L604.8,578.6L605.0,578.7L605.3,578.8L605.5,578.7L605.8,578.6L606.1,578.4L606.3,578.3L606.6,578.3L606.8,578.4L607.1,578.5L607.3,578.6L607.6,578.6L607.9,578.7L608.1,578.7L608.4,578.8L608.6,578.8L608.9,578.8L609.1,578.7L609.4,578.7L609.6,578.6L609.9,578.7L610.2,578.7L610.4,578.8L610.7,578.8L610.9,578.8L611.2,578.8L611.4,578.7L611.7,578.7L612.0,578.6L612.2,578.5L612.5,578.4L612.7,578.3L613.0,578.2L613.2,578.1L613.5,578.0L613.8,577.8L614.0,577.7L614.3,577.6L614.5,577.5L614.8,577.5L615.0,577.4L615.3,577.4L615.6,577.3L615.8,577.2L616.1,577.1L616.3,577.0L616.6,577.0L616.8,577.0L617.1,577.0L617.3,577.0L617.6,577.0L617.9,577.0L618.1,577.0L618.4,577.0L618.6,577.0L618.9,577.1L619.1,577.3L619.4,577.4L619.7,577.5L619.9,577.6L620.2,577.5L620.4,577.5L620.7,577.4L620.9,577.3L621.2,577.3L621.5,577.2L621.7,577.1L622.0,577.0L622.2,577.0L622.5,577.0L622.7,577.0L623.0,577.0L623.3,577.0L623.5,577.0L623.8,577.0L624.0,577.0L624.3,577.0L624.5,577.1L624.8,577.2L625.0,577.3L625.3,577.4L625.6,577.3L625.8,577.3L626.1,577.2L626.3,577.2L626.6,577.2L626.8,577.3L627.1,577.3L627.4,577.3L627.6,577.4L627.9,577.3L628.1,577.3L628.4,577.2L628.6,577.2L628.9,577.4L629.2,577.6L629.4,577.7L629.7,577.9L629.9,578.1L630.2,578.2L630.4,578.3L630.7,578.4L631.0,578.4L631.2,578.4L631.5,578.4L631.7,578.4L632.0,578.4L632.2,578.5L632.5,578.5L632.7,578.6L633.0,578.6L633.3,578.6L633.5,578.6L633.8,578.6L634.0,578.6L634.3,578.6L634.5,578.6L634.8,578.5L635.1,578.5L635.3,578.4L635.6,578.5L635.8,578.5L636.1,578.6L636.3,578.6L636.6,578.6L636.9,578.6L637.1,578.5L637.4,578.5L637.6,578.5L637.9,578.6L638.1,578.6L638.4,578.7L638.7,578.8L638.9,578.8L639.2,578.8L639.4,578.8L639.7,578.8L639.9,578.8L640.2,578.8L640.4,578.7L640.7,578.7L641.0,578.6L641.2,578.6L641.5,578.5L641.7,578.5L642.0,578.4L642.2,578.4L642.5,578.4L642.8,578.4L643.0,578.4L643.3,578.4L643.5,578.3L643.8,578.3L644.0,578.2L644.3,578.2L644.6,578.3L644.8,578.3L645.1,578.4L645.3,578.4L645.6,578.4L645.8,578.4L646.1,578.4L646.3,578.4L646.6,578.4L646.9,578.4L647.1,578.4L647.4,578.4L647.6,578.4L647.9,578.4L648.1,578.4L648.4,578.4L648.7,578.4L648.9,578.4L649.2,578.4L649.4,578.4L649.7,578.4L649.9,578.3L650.2,578.2L650.5,578.0L650.7,577.9L651.0,577.8L651.2,577.9L651.5,577.9L651.7,578.0L652.0,578.0L652.3,578.0L652.5,578.0L652.8,578.0L653.0,578.0L653.3,578.0L653.5,578.0L653.8,578.0L654.0,578.0L654.3,578.0L654.6,577.9L654.8,577.9L655.1,577.8L655.3,577.8L655.6,577.8L655.8,577.8L656.1,577.8L656.4,577.8L656.6,577.8L656.9,577.7L657.1,577.7L657.4,577.6L657.6,577.6L657.9,577.6L658.2,577.6L658.4,577.6L658.7,577.6L658.9,577.5L659.2,577.5L659.4,577.4L659.7,577.4L660.0,577.4L660.2,577.4L660.5,577.4L660.7,577.4L661.0,577.4L661.2,577.5L661.5,577.6L661.7,577.7L662.0,577.8L662.3,577.8L662.5,577.8L662.8,577.8L663.0,577.8L663.3,577.4L663.5,577.4L663.8,577.4L664.1,577.4L664.3,572.8L664.6,572.8L664.8,572.8L665.1,572.8L665.3,572.8L665.6,572.8L665.9,572.8L666.1,572.8L666.4,572.8L666.6,572.8L666.9,572.8L667.1,572.8L667.4,572.8L667.7,572.8L667.9,572.8L668.2,572.8L668.4,572.8L668.7,572.8L668.9,572.8L669.2,572.8L669.4,572.8L669.7,572.8L670.0,572.8L670.2,572.8L670.5,572.8L670.7,572.8L671.0,572.8L671.2,572.8L671.5,572.8L671.8,572.8L672.0,572.8L672.3,572.8L672.5,572.8L672.8,572.8L673.0,572.8L673.3,572.8L673.6,572.8L673.8,572.8L674.1,572.8L674.3,572.8L674.6,572.8L674.8,572.8L675.1,572.8L675.4,572.8L675.6,572.8L675.9,572.8L676.1,572.8L676.4,572.8L676.6,572.8L676.9,572.8L677.1,572.8L677.4,572.8L677.7,566.5L677.9,566.5L678.2,566.5L678.4,566.5L678.7,566.5L678.9,566.5L679.2,566.5L679.5,566.5L679.7,566.5L680.0,566.5L680.2,566.5L680.5,566.5L680.7,566.5L681.0,561.3L681.3,561.3L681.5,561.3L681.8,561.3L682.0,561.3L682.3,561.3L682.5,561.3L682.8,561.3L683.1,561.3L683.3,561.3L683.6,561.3L683.8,561.3L684.1,561.3L684.3,556.1L684.6,556.1L684.8,556.1L685.1,556.1L685.4,556.1L685.6,556.1L685.9,556.1L686.1,556.1L686.4,556.1L686.6,556.1L686.9,556.1L687.2,556.1L687.4,556.1L687.7,556.1L687.9,556.1L688.2,556.1L688.4,556.1L688.7,556.1L689.0,556.1L689.2,556.1L689.5,556.1L689.7,556.1L690.0,556.1L690.2,556.1L690.5,556.1L690.8,556.1L691.0,550.7L691.3,550.7L691.5,550.7L691.8,550.7L692.0,550.7L692.3,550.7L692.5,550.7L692.8,550.7L693.1,550.7L693.3,550.7L693.6,550.7L693.8,550.7L694.1,550.7L694.3,550.7L694.6,545.0L694.9,545.0L695.1,545.0L695.4,545.0L695.6,545.0L695.9,545.0L696.1,545.0L696.4,545.0L696.7,545.0L696.9,545.0L697.2,545.0L697.4,545.0L697.7,540.5L697.9,540.5L698.2,540.5L698.5,540.5L698.7,540.5L699.0,540.5L699.2,540.5L699.5,540.5L699.7,540.5L700.0,540.5L700.2,540.5L700.5,540.5L700.8,540.5L701.0,540.5L701.3,540.5L701.5,534.6L701.8,534.6L702.0,534.6L702.3,534.6L702.6,534.6L702.8,534.6L703.1,534.6L703.3,534.6L703.6,534.6L703.8,534.6L704.1,534.6L704.4,534.6L704.6,530.2L704.9,530.2L705.1,530.2L705.4,530.2L705.6,530.2L705.9,530.2L706.2,530.2L706.4,530.2L706.7,530.2L706.9,530.2L707.2,530.2L707.4,530.2L707.7,530.2L707.9,530.2L708.2,530.2L708.5,530.2L708.7,530.2L709.0,530.2L709.2,530.2L709.5,530.2L709.7,530.2L710.0,530.2L710.3,530.2L710.5,530.2L710.8,530.2L711.0,530.2L711.3,530.2L711.5,530.2L711.8,530.2L712.1,530.2L712.3,530.2L712.6,530.2L712.8,535.9L713.1,535.9L713.3,535.9L713.6,535.9L713.8,535.9L714.1,535.9L714.4,535.9L714.6,541.1L714.9,541.1L715.1,541.1L715.4,541.1L715.6,541.1L715.9,541.1L716.2,548.0L716.4,548.0L716.7,548.0L716.9,548.0L717.2,548.0L717.4,548.0L717.7,548.0L718.0,548.0L718.2,548.0L718.5,548.0L718.7,548.0L719.0,548.0L719.2,548.0L719.5,548.0L719.8,548.0L720.0,548.0L720.3,548.0L720.5,557.6L720.8,557.6L721.0,578.6L721.3,578.6L721.5,578.6L721.8,578.6L722.1,578.6L722.3,578.6L722.6,578.6L722.8,578.6L723.1,578.6L723.3,578.6L723.6,578.6L723.9,578.6L724.1,578.6L724.4,578.6L724.6,578.6L724.9,578.6L725.1,578.6L725.4,578.6L725.7,578.6L725.9,578.6L726.2,578.6L726.4,578.6L726.7,578.6L726.9,578.6L727.2,578.6L727.5,578.6L727.7,578.6L728.0,578.6L728.2,578.6L728.5,578.6L728.7,578.6L729.0,578.6L729.2,578.6L729.5,578.6L729.8,578.6L730.0,578.6L730.3,578.6L730.5,578.6L730.8,578.6L731.0,578.6L731.3,578.6L731.6,578.6L731.8,578.6L732.1,578.6L732.3,578.6L732.6,578.6L732.8,578.6L733.1,578.6L733.4,578.6L733.6,578.6L733.9,578.6L734.1,578.6L734.4,578.6L734.6,578.6L734.9,578.6L735.2,578.6L735.4,578.6L735.7,578.6L735.9,578.6L736.2,578.6L736.4,578.6L736.7,578.6L736.9,578.6L737.2,578.6L737.5,578.6L737.7,578.6L738.0,578.6L738.2,578.6L738.5,578.6L738.7,578.6L739.0,578.6L739.3,578.6L739.5,578.6L739.8,578.6L740.0,578.6L740.3,578.6L740.5,578.6L740.8,578.6L741.1,578.6L741.3,578.6L741.6,578.6L741.8,578.6L742.1,578.6L742.3,578.6L742.6,578.6L742.9,578.6L743.1,578.6L743.4,578.6L743.6,578.6L743.9,578.6L744.1,578.6L744.4,578.6L744.6,578.6L744.9,578.6L745.2,578.6L745.4,578.6L745.7,578.6L745.9,578.6L746.2,578.6L746.4,578.6L746.7,578.6L747.0,578.6L747.2,578.6L747.5,578.6L747.7,573.4L748.0,573.4L748.2,573.4L748.5,573.4L748.8,573.4L749.0,573.4L749.3,573.4L749.5,563.0L749.8,563.0L750.0,563.0L750.3,563.0L750.6,563.0L750.8,563.0L751.1,547.3L751.3,547.3L751.6,547.3L751.8,547.3L752.1,547.3L752.3,547.3L752.6,531.7L752.9,531.7L753.1,531.7L753.4,531.7L753.6,531.7L753.9,531.7L754.1,531.7L754.4,531.7L754.7,516.0L754.9,516.0L755.2,516.0L755.4,516.0L755.7,516.0L755.9,516.0L756.2,500.4L756.5,500.4L756.7,500.4L757.0,500.4L757.2,500.4L757.5,500.4L757.7,490.0L758.0,490.0L758.3,490.0L758.5,490.0L758.8,490.0L759.0,490.0L759.3,490.0L759.5,484.8L759.8,484.8L760.0,484.8L760.3,484.8L760.6,484.8L760.8,484.8L761.1,484.8L761.3,479.5L761.6,479.5L761.8,479.5L762.1,479.5L762.4,479.5L762.6,479.5L762.9,474.3L763.1,474.3L763.4,474.3L763.6,474.3L763.9,474.3L764.2,474.3L764.4,474.3L764.7,474.3L764.9,474.3L765.2,474.3L765.4,474.3L765.7,474.3L766.0,469.1L766.2,469.1L766.5,469.1L766.7,469.1L767.0,469.1L767.2,469.1L767.5,469.1L767.7,469.1L768.0,469.1L768.3,469.1L768.5,469.1L768.8,469.1L769.0,469.1L769.3,469.1L769.5,469.1L769.8,469.1L770.1,469.1L770.3,469.1L770.6,469.1L770.8,469.1L771.1,469.1L771.3,469.1L771.6,469.1L771.9,469.1L772.1,469.1L772.4,469.1L772.6,469.1L772.9,469.1L773.1,469.1L773.4,469.1L773.7,469.1L773.9,469.1L774.2,469.1L774.4,469.1L774.7,469.1L774.9,469.1L775.2,469.1L775.4,469.1L775.7,469.1L776.0,469.1L776.2,469.1L776.5,469.1L776.7,469.1L777.0,469.1L777.2,469.1L777.5,469.1L777.8,469.1L778.0,469.1L778.3,469.1L778.5,469.1L778.8,469.1L779.0,469.1L779.3,469.1L779.6,469.1L779.8,469.1L780.1,469.1L780.3,469.1L780.6,469.1L780.8,469.1L781.1,469.1L781.3,479.5L781.6,479.5L781.9,479.5L782.1,479.5L782.4,479.5L782.6,479.5L782.9,479.5L783.1,484.8L783.4,484.8L783.7,484.8L783.9,484.8L784.2,484.8L784.4,484.8L784.7,490.0L784.9,490.0L785.2,490.0L785.5,490.0L785.7,490.0L786.0,490.0L786.2,490.0L786.5,490.0L786.7,490.0L787.0,490.0L787.3,490.0L787.5,490.0L787.8,490.0L788.0,490.0L788.3,490.0L788.5,490.0L788.8,490.0L789.0,490.0L789.3,490.0L789.6,490.0L789.8,490.0L790.1,490.0L790.3,490.0L790.6,490.0L790.8,490.0L791.1,490.0L791.4,490.0L791.6,490.0L791.9,490.0L792.1,490.0L792.4,490.0L792.6,490.0L792.9,490.0L793.2,490.0L793.4,490.0L793.7,490.0L793.9,490.0L794.2,494.1" stroke="#f18a74" stroke-width="2.7"/>
<path d="M68.1,427.2L68.4,427.1L68.6,427.3L68.9,427.1L69.1,426.0L69.4,425.2L69.6,424.7L69.9,423.9L70.2,423.5L70.4,423.6L70.7,423.3L70.9,422.6L71.2,421.8L71.4,421.7L71.7,421.8L72.0,421.3L72.2,420.0L72.5,419.2L72.7,419.6L73.0,419.8L73.2,419.6L73.5,419.6L73.8,419.5L74.0,419.5L74.3,420.1L74.5,420.6L74.8,421.0L75.0,421.6L75.3,422.2L75.6,422.6L75.8,422.9L76.1,423.3L76.3,423.6L76.6,423.8L76.8,424.1L77.1,424.2L77.3,424.2L77.6,424.4L77.9,425.0L78.1,425.0L78.4,425.7L78.6,426.7L78.9,427.1L79.1,427.2L79.4,427.5L79.7,427.9L79.9,427.9L80.2,428.2L80.4,428.8L80.7,428.7L80.9,428.0L81.2,427.6L81.5,427.6L81.7,427.4L82.0,427.2L82.2,426.7L82.5,426.4L82.7,426.7L83.0,426.7L83.3,426.7L83.5,426.8L83.8,426.5L84.0,426.4L84.3,426.0L84.5,425.5L84.8,425.9L85.0,426.0L85.3,425.7L85.6,426.1L85.8,426.2L86.1,425.7L86.3,425.4L86.6,425.3L86.8,425.1L87.1,424.8L87.4,424.8L87.6,425.2L87.9,425.8L88.1,426.2L88.4,426.1L88.6,425.8L88.9,425.7L89.2,425.0L89.4,424.7L89.7,425.4L89.9,425.7L90.2,425.3L90.4,425.0L90.7,425.3L91.0,425.4L91.2,425.3L91.5,425.0L91.7,424.9L92.0,425.2L92.2,425.2L92.5,424.8L92.7,424.9L93.0,425.0L93.3,424.6L93.5,424.2L93.8,424.2L94.0,424.3L94.3,424.4L94.5,423.8L94.8,422.8L95.1,422.3L95.3,421.6L95.6,420.4L95.8,419.8L96.1,419.7L96.3,419.8L96.6,420.4L96.9,420.2L97.1,418.6L97.4,416.8L97.6,415.2L97.9,413.6L98.1,412.2L98.4,410.0L98.7,408.1L98.9,406.3L99.2,403.9L99.4,401.5L99.7,399.9L99.9,398.9L100.2,397.6L100.4,396.6L100.7,396.5L101.0,396.2L101.2,396.8L101.5,397.4L101.7,398.2L102.0,399.1L102.2,400.4L102.5,401.0L102.8,400.8L103.0,401.1L103.3,401.8L103.5,402.2L103.8,402.6L104.0,402.5L104.3,402.0L104.6,401.8L104.8,402.3L105.1,403.1L105.3,403.3L105.6,403.2L105.8,403.6L106.1,404.0L106.4,404.0L106.6,404.2L106.9,404.9L107.1,405.0L107.4,404.4L107.6,403.4L107.9,402.0L108.1,400.9L108.4,399.4L108.7,398.1L108.9,396.3L109.2,394.1L109.4,392.9L109.7,392.4L109.9,391.7L110.2,390.6L110.5,389.4L110.7,388.3L111.0,387.7L111.2,387.2L111.5,386.4L111.7,385.0L112.0,383.5L112.3,382.3L112.5,381.1L112.8,379.2L113.0,377.1L113.3,375.2L113.5,373.8L113.8,372.8L114.0,372.8L114.3,372.5L114.6,372.0L114.8,371.9L115.1,373.0L115.3,374.2L115.6,375.7L115.8,376.5L116.1,376.6L116.4,377.1L116.6,378.5L116.9,379.5L117.1,380.4L117.4,381.7L117.6,382.7L117.9,383.1L118.2,383.7L118.4,385.0L118.7,386.2L118.9,387.9L119.2,389.4L119.4,390.0L119.7,391.3L120.0,393.3L120.2,394.2L120.5,394.7L120.7,395.6L121.0,396.3L121.2,396.8L121.5,397.2L121.7,396.5L122.0,395.4L122.3,394.3L122.5,393.8L122.8,394.6L123.0,395.3L123.3,395.1L123.5,394.8L123.8,394.8L124.1,395.1L124.3,395.4L124.6,395.4L124.8,395.6L125.1,395.1L125.3,394.3L125.6,393.7L125.9,393.7L126.1,393.7L126.4,392.4L126.6,391.1L126.9,390.3L127.1,389.7L127.4,389.4L127.7,388.7L127.9,388.3L128.2,388.3L128.4,388.7L128.7,388.9L128.9,389.1L129.2,389.0L129.4,389.1L129.7,389.1L130.0,389.4L130.2,390.1L130.5,390.8L130.7,391.5L131.0,391.9L131.2,392.1L131.5,392.3L131.8,393.4L132.0,394.2L132.3,395.2L132.5,396.3L132.8,396.6L133.0,396.2L133.3,396.5L133.6,397.4L133.8,397.9L134.1,398.0L134.3,397.8L134.6,397.4L134.8,397.5L135.1,397.1L135.4,397.0L135.6,397.5L135.9,397.5L136.1,396.9L136.4,396.4L136.6,396.1L136.9,395.5L137.1,394.8L137.4,394.5L137.7,394.6L137.9,394.9L138.2,394.5L138.4,393.5L138.7,393.1L138.9,393.3L139.2,393.1L139.5,393.1L139.7,393.3L140.0,393.1L140.2,393.2L140.5,393.2L140.7,393.1L141.0,393.3L141.3,393.5L141.5,393.8L141.8,394.5L142.0,394.8L142.3,395.1L142.5,395.8L142.8,396.2L143.1,396.6L143.3,396.6L143.6,396.8L143.8,397.7L144.1,398.2L144.3,397.8L144.6,398.3L144.8,398.9L145.1,398.7L145.4,398.8L145.6,399.1L145.9,399.7L146.1,399.8L146.4,399.4L146.6,399.3L146.9,399.1L147.2,398.5L147.4,398.2L147.7,398.3L147.9,398.2L148.2,398.2L148.4,398.2L148.7,397.8L149.0,397.3L149.2,396.8L149.5,396.2L149.7,395.7L150.0,395.0L150.2,395.1L150.5,395.7L150.8,395.4L151.0,394.8L151.3,394.1L151.5,393.5L151.8,393.4L152.0,393.4L152.3,393.5L152.5,394.2L152.8,395.1L153.1,395.1L153.3,394.9L153.6,395.0L153.8,394.8L154.1,394.1L154.3,394.0L154.6,394.0L154.9,393.8L155.1,393.9L155.4,394.2L155.6,394.5L155.9,394.5L156.1,393.9L156.4,393.6L156.7,394.1L156.9,394.1L157.2,393.4L157.4,393.3L157.7,393.0L157.9,392.2L158.2,391.7L158.5,390.9L158.7,390.6L159.0,390.5L159.2,389.6L159.5,388.9L159.7,389.2L160.0,389.0L160.2,388.2L160.5,387.5L160.8,387.1L161.0,386.6L161.3,385.4L161.5,384.7L161.8,384.0L162.0,383.0L162.3,382.1L162.6,381.2L162.8,380.1L163.1,379.2L163.3,379.4L163.6,379.1L163.8,377.9L164.1,377.2L164.4,376.8L164.6,376.7L164.9,377.0L165.1,376.8L165.4,376.2L165.6,375.7L165.9,375.7L166.2,376.5L166.4,377.0L166.7,377.1L166.9,377.0L167.2,376.5L167.4,376.1L167.7,375.9L167.9,375.2L168.2,374.2L168.5,373.1L168.7,372.2L169.0,370.9L169.2,369.6L169.5,368.2L169.7,367.0L170.0,366.1L170.3,364.9L170.5,363.9L170.8,363.6L171.0,361.9L171.3,363.7L171.5,364.4L171.8,364.4L172.1,364.4L172.3,363.0L172.6,362.0L172.8,362.5L173.1,364.1L173.3,365.5L173.6,364.1L173.8,361.7L174.1,361.9L174.4,364.1L174.6,365.0L174.9,365.9L175.1,365.2L175.4,360.3L175.6,357.7L175.9,359.0L176.2,359.6L176.4,357.1L176.7,352.9L176.9,350.6L177.2,348.2L177.4,346.5L177.7,348.8L178.0,352.8L178.2,353.3L178.5,352.6L178.7,353.3L179.0,355.1L179.2,355.0L179.5,351.9L179.8,348.5L180.0,346.2L180.3,344.1L180.5,343.4L180.8,345.5L181.0,344.5L181.3,340.1L181.5,338.6L181.8,333.0L182.1,324.6L182.3,316.6L182.6,311.7L182.8,312.0L183.1,312.3L183.3,311.3L183.6,310.2L183.9,309.8L184.1,311.0L184.4,313.1L184.6,314.4L184.9,310.8L185.1,307.4L185.4,307.8L185.7,309.0L185.9,310.8L186.2,304.5L186.4,293.0L186.7,279.9L186.9,268.7L187.2,262.5L187.5,258.0L187.7,249.4L188.0,241.1L188.2,237.6L188.5,249.1L188.7,258.6L189.0,268.9L189.2,280.8L189.5,290.9L189.8,296.2L190.0,300.3L190.3,308.6L190.5,317.6L190.8,321.2L191.0,322.2L191.3,324.1L191.6,326.3L191.8,323.8L192.1,322.8L192.3,320.7L192.6,317.4L192.8,314.1L193.1,311.2L193.4,309.9L193.6,307.5L193.9,303.4L194.1,299.3L194.4,295.7L194.6,293.8L194.9,291.9L195.2,289.3L195.4,288.0L195.7,288.1L195.9,286.1L196.2,281.7L196.4,277.8L196.7,275.3L196.9,273.3L197.2,272.9L197.5,271.3L197.7,268.9L198.0,268.5L198.2,269.5L198.5,270.9L198.7,268.8L199.0,266.0L199.3,266.4L199.5,266.0L199.8,264.7L200.0,263.9L200.3,260.0L200.5,256.6L200.8,256.1L201.1,257.6L201.3,258.8L201.6,257.5L201.8,252.1L202.1,247.0L202.3,243.1L202.6,238.6L202.9,234.8L203.1,234.6L203.4,236.9L203.6,234.7L203.9,230.3L204.1,229.8L204.4,231.0L204.6,230.8L204.9,229.5L205.2,227.3L205.4,226.2L205.7,225.1L205.9,223.1L206.2,217.2L206.4,211.3L206.7,208.0L207.0,201.7L207.2,196.5L207.5,195.4L207.7,195.4L208.0,191.7L208.2,196.5L208.5,198.0L208.8,203.1L209.0,203.1L209.3,204.2L209.5,210.1L209.8,216.1L210.0,222.0L210.3,226.3L210.6,226.6L210.8,223.5L211.1,219.9L211.3,217.8L211.6,218.7L211.8,218.4L212.1,213.7L212.3,210.5L212.6,212.3L212.9,215.1L213.1,214.3L213.4,215.1L213.6,220.2L213.9,223.6L214.1,223.4L214.4,221.9L214.7,223.1L214.9,229.4L215.2,232.6L215.4,230.4L215.7,231.6L215.9,235.7L216.2,234.2L216.5,231.2L216.7,231.5L217.0,231.2L217.2,230.1L217.5,229.2L217.7,228.7L218.0,227.8L218.3,227.2L218.5,231.5L218.8,233.7L219.0,235.4L219.3,240.0L219.5,245.0L219.8,249.7L220.0,251.9L220.3,252.3L220.6,255.2L220.8,259.0L221.1,264.3L221.3,270.7L221.6,275.3L221.8,278.7L222.1,281.7L222.4,285.6L222.6,290.7L222.9,292.2L223.1,292.4L223.4,294.3L223.6,295.3L223.9,295.2L224.2,296.8L224.4,299.7L224.7,302.3L224.9,304.0L225.2,304.2L225.4,306.6L225.7,309.7L226.0,309.0L226.2,307.7L226.5,309.6L226.7,311.7L227.0,311.2L227.2,310.8L227.5,310.2L227.7,310.3L228.0,312.0L228.3,312.9L228.5,313.6L228.8,313.2L229.0,313.5L229.3,315.4L229.5,316.2L229.8,315.9L230.1,314.8L230.3,312.3L230.6,307.0L230.8,305.5L231.1,309.4L231.3,307.6L231.6,301.0L231.9,298.2L232.1,297.4L232.4,296.3L232.6,294.3L232.9,292.9L233.1,292.6L233.4,291.9L233.7,291.9L233.9,293.0L234.2,293.5L234.4,294.4L234.7,297.4L234.9,301.6L235.2,301.8L235.4,299.5L235.7,300.8L236.0,301.7L236.2,301.6L236.5,301.7L236.7,301.8L237.0,303.6L237.2,302.9L237.5,300.8L237.8,300.8L238.0,300.0L238.3,298.2L238.5,298.4L238.8,302.2L239.0,306.7L239.3,307.1L239.6,304.0L239.8,300.9L240.1,301.0L240.3,301.6L240.6,300.5L240.8,299.1L241.1,297.3L241.3,295.1L241.6,293.2L241.9,291.7L242.1,290.7L242.4,289.9L242.6,288.9L242.9,287.0L243.1,284.5L243.4,282.5L243.7,281.4L243.9,280.0L244.2,277.7L244.4,277.1L244.7,276.5L244.9,274.3L245.2,277.0L245.5,277.9L245.7,276.7L246.0,276.8L246.2,277.8L246.5,279.2L246.7,279.0L247.0,276.8L247.3,276.1L247.5,281.5L247.8,287.0L248.0,286.6L248.3,282.3L248.5,282.4L248.8,289.0L249.0,293.4L249.3,294.0L249.6,297.3L249.8,300.6L250.1,302.3L250.3,305.6L250.6,306.0L250.8,305.1L251.1,307.9L251.4,307.2L251.6,305.1L251.9,308.1L252.1,311.5L252.4,310.9L252.6,310.9L252.9,312.5L253.2,312.5L253.4,311.7L253.7,308.5L253.9,304.4L254.2,304.8L254.4,305.7L254.7,305.3L255.0,306.9L255.2,308.1L255.5,306.0L255.7,307.3L256.0,310.6L256.2,311.4L256.5,312.9L256.7,317.3L257.0,322.9L257.3,327.5L257.5,329.5L257.8,329.9L258.0,328.3L258.3,327.5L258.5,327.1L258.8,327.2L259.1,327.6L259.3,328.6L259.6,327.6L259.8,325.1L260.1,325.0L260.3,327.2L260.6,327.9L260.9,324.9L261.1,323.3L261.4,323.3L261.6,324.4L261.9,328.1L262.1,327.8L262.4,328.0L262.7,332.8L262.9,336.7L263.2,337.8L263.4,338.5L263.7,342.8L263.9,348.2L264.2,351.1L264.4,354.7L264.7,359.1L265.0,360.7L265.2,358.8L265.5,357.5L265.7,357.3L266.0,357.7L266.2,357.7L266.5,359.7L266.8,366.6L267.0,370.3L267.3,367.5L267.5,366.7L267.8,372.6L268.0,376.3L268.3,375.3L268.6,372.3L268.8,371.1L269.1,371.5L269.3,370.8L269.6,369.2L269.8,368.9L270.1,365.6L270.4,359.4L270.6,357.1L270.9,358.2L271.1,356.6L271.4,356.8L271.6,358.9L271.9,360.8L272.1,362.3L272.4,363.2L272.7,364.8L272.9,369.1L273.2,372.8L273.4,372.8L273.7,373.6L273.9,373.9L274.2,373.3L274.5,373.8L274.7,372.8L275.0,373.8L275.2,377.1L275.5,375.5L275.7,371.6L276.0,373.1L276.3,377.5L276.5,377.9L276.8,379.7L277.0,385.1L277.3,386.8L277.5,385.1L277.8,386.2L278.1,386.7L278.3,385.4L278.6,385.9L278.8,385.6L279.1,384.8L279.3,385.4L279.6,385.6L279.8,388.5L280.1,391.3L280.4,390.8L280.6,388.2L280.9,384.4L281.1,382.9L281.4,382.3L281.6,378.8L281.9,372.4L282.2,365.5L282.4,363.1L282.7,363.6L282.9,362.2L283.2,360.7L283.4,360.4L283.7,360.8L284.0,363.4L284.2,364.4L284.5,362.1L284.7,362.8L285.0,366.1L285.2,366.9L285.5,368.0L285.8,367.7L286.0,365.6L286.3,364.7L286.5,363.5L286.8,358.3L287.0,352.2L287.3,350.1L287.5,349.9L287.8,347.9L288.2,344.6L288.4,338.7L288.6,346.7L288.8,353.5L289.1,355.5L289.3,357.5L289.6,359.9L289.9,360.8L290.1,357.7L290.4,358.3L290.6,360.4L290.9,359.0L291.1,359.0L291.4,360.8L291.7,362.2L291.9,365.6L292.2,370.3L292.4,374.6L292.7,375.7L292.9,374.2L293.2,373.0L293.5,372.5L293.7,375.0L294.0,376.3L294.2,373.0L294.5,372.3L294.7,372.4L295.0,370.7L295.2,368.9L295.5,366.6L295.8,363.6L296.0,360.3L296.3,361.5L296.5,364.1L296.8,365.9L297.0,367.5L297.3,366.5L297.6,364.9L297.8,365.9L298.1,367.0L298.3,363.7L298.6,360.2L298.8,361.0L299.1,360.6L299.4,359.7L299.6,361.2L299.9,361.0L300.1,359.5L300.4,361.4L300.6,365.7L300.9,365.2L301.2,361.0L301.4,363.3L301.7,367.9L301.9,366.3L302.2,364.4L302.4,366.8L302.7,367.7L302.9,363.0L303.2,360.9L303.5,361.0L303.7,359.3L304.0,358.9L304.2,358.3L304.5,358.2L304.7,358.9L305.0,356.1L305.3,354.6L305.5,354.8L305.8,354.0L306.0,353.2L306.3,352.2L306.5,352.6L306.8,352.5L307.1,351.0L307.3,351.2L307.6,351.8L307.8,349.7L308.1,347.7L308.3,349.2L308.6,353.3L308.8,352.7L309.1,351.9L309.4,353.0L309.6,355.4L309.9,360.0L310.1,363.3L310.4,366.0L310.6,369.1L310.9,371.3L311.2,371.5L311.4,371.4L311.7,373.0L311.9,373.5L312.2,372.6L312.4,371.0L312.7,371.8L313.0,371.4L313.2,369.7L313.5,369.1L313.7,367.9L314.0,366.6L314.2,366.3L314.5,368.0L314.8,371.2L315.0,373.3L315.3,372.5L315.5,371.8L315.8,374.4L316.0,377.8L316.3,378.4L316.5,377.5L316.8,378.1L317.1,377.7L317.3,374.7L317.6,374.4L317.8,375.4L318.1,375.0L318.3,372.8L318.6,370.5L318.9,371.1L319.1,371.2L319.4,369.9L319.6,367.6L319.9,365.7L320.1,366.7L320.4,368.3L320.7,368.6L320.9,366.8L321.2,365.1L321.4,365.1L321.7,364.2L321.9,361.6L322.2,360.2L322.5,360.3L322.7,360.7L323.0,361.1L323.2,362.0L323.5,364.9L323.7,367.0L324.0,368.8L324.2,369.5L324.5,369.5L324.8,369.8L325.0,370.3L325.3,370.7L325.5,369.5L325.8,368.7L326.0,368.8L326.3,366.8L326.6,367.9L326.8,369.9L327.1,366.6L327.3,364.8L327.6,367.1L327.8,368.0L328.1,368.7L328.4,369.9L328.6,369.1L328.9,368.6L329.1,369.8L329.4,368.8L329.6,370.3L329.9,376.3L330.2,379.6L330.4,379.0L330.7,378.0L330.9,378.4L331.2,380.4L331.4,381.4L331.7,379.7L331.9,379.4L332.2,382.2L332.5,383.8L332.7,383.7L333.0,384.7L333.2,384.2L333.5,381.8L333.7,381.6L334.0,383.0L334.3,382.4L334.5,381.5L334.8,381.9L335.0,381.6L335.3,380.5L335.5,381.8L335.8,384.5L336.1,384.6L336.3,382.8L336.6,381.1L336.8,379.0L337.1,378.4L337.3,380.1L337.6,381.3L337.9,380.8L338.1,379.7L338.4,378.4L338.6,380.4L338.9,382.7L339.1,384.4L339.4,387.3L339.6,389.1L339.9,389.3L340.2,388.9L340.4,389.0L340.7,390.2L340.9,391.9L341.2,393.5L341.4,394.4L341.7,394.7L342.0,395.2L342.2,396.9L342.5,397.8L342.7,397.5L343.0,398.5L343.2,400.7L343.5,402.4L343.8,404.1L344.0,404.4L344.3,402.5L344.5,403.3L344.8,406.1L345.0,406.1L345.3,403.0L345.6,402.2L345.8,400.4L346.1,397.4L346.3,396.9L346.6,396.4L346.8,395.1L347.1,394.8L347.3,394.1L347.6,393.6L347.9,394.1L348.1,394.9L348.4,394.5L348.6,394.3L348.9,394.8L349.1,397.1L349.4,399.9L349.7,401.5L349.9,402.3L350.2,402.1L350.4,401.7L350.7,402.2L350.9,405.0L351.2,407.3L351.5,408.3L351.7,410.4L352.0,410.4L352.2,409.4L352.5,410.8L352.7,413.7L353.0,413.7L353.3,412.1L353.5,412.2L353.8,413.0L354.0,414.7L354.3,416.2L354.5,415.7L354.8,414.7L355.0,413.4L355.3,411.0L355.6,408.4L355.8,406.2L356.1,405.5L356.3,406.7L356.6,407.2L356.8,406.6L357.1,408.6L357.4,411.2L357.6,411.0L357.9,411.2L358.1,412.9L358.4,412.5L358.6,412.9L358.9,415.8L359.2,418.3L359.4,420.3L359.7,422.3L359.9,423.5L360.2,424.2L360.4,424.9L360.7,424.6L361.0,423.6L361.2,423.4L361.5,424.3L361.7,425.7L362.0,425.1L362.2,423.5L362.5,423.8L362.7,425.0L363.0,425.3L363.3,425.2L363.5,425.9L363.8,425.9L364.0,426.4L364.3,429.3L364.5,431.3L364.8,430.6L365.1,431.4L365.3,432.4L365.6,430.7L365.8,430.2L366.1,431.7L366.3,433.5L366.6,433.1L366.9,431.2L367.1,431.7L367.4,434.5L367.6,436.7L367.9,436.6L368.1,436.4L368.4,438.6L368.7,438.0L368.9,435.0L369.2,432.8L369.4,432.2L369.7,431.1L369.9,430.3L370.2,430.7L370.4,430.5L370.7,429.7L371.0,431.2L371.2,432.6L371.5,431.3L371.7,431.5L372.0,432.4L372.2,432.8L372.5,434.1L372.8,435.0L373.0,431.2L373.3,426.2L373.5,423.9L373.8,424.0L374.0,423.4L374.3,419.3L374.6,413.5L374.8,409.7L375.1,408.2L375.3,406.3L375.6,403.2L375.8,401.9L376.1,403.1L376.3,404.9L376.6,403.7L376.9,402.9L377.1,404.5L377.4,406.1L377.6,404.2L377.9,401.5L378.1,401.1L378.4,401.4L378.7,401.5L378.9,401.8L379.2,403.9L379.4,404.2L379.7,402.4L379.9,401.2L380.2,400.0L380.5,398.7L380.7,397.9L381.0,397.8L381.2,397.1L381.5,396.4L381.7,395.3L382.0,392.9L382.3,391.4L382.5,389.0L382.8,386.4L383.0,386.8L383.3,388.4L383.5,390.7L383.8,391.2L384.0,389.3L384.3,387.7L384.6,387.2L384.8,388.2L385.1,389.2L385.3,390.9L385.6,392.5L385.8,394.4L386.1,397.2L386.4,400.2L386.6,401.3L386.9,400.8L387.1,401.1L387.4,403.7L387.6,405.2L387.9,404.0L388.2,404.0L388.4,405.8L388.7,411.0L388.9,415.4L389.2,415.6L389.4,415.3L389.7,416.8L390.0,419.7L390.2,422.2L390.5,423.4L390.7,423.6L391.0,422.4L391.2,420.4L391.5,419.5L391.7,420.2L392.0,420.0L392.3,418.5L392.5,417.3L392.8,416.5L393.0,416.1L393.3,416.7L393.5,416.3L393.8,415.7L394.1,418.5L394.3,421.6L394.6,422.1L394.8,423.4L395.1,425.1L395.3,426.0L395.6,426.7L395.9,426.6L396.1,426.2L396.4,425.8L396.6,428.3L396.9,432.3L397.1,433.0L397.4,432.7L397.7,433.1L397.9,433.2L398.2,433.1L398.4,434.4L398.7,434.6L398.9,432.8L399.2,431.6L399.4,431.4L399.7,429.2L400.0,427.4L400.2,426.4L400.5,423.9L400.7,420.8L401.0,418.6L401.2,416.7L401.5,414.4L401.8,413.5L402.0,415.5L402.3,415.7L402.5,413.4L402.8,411.2L403.0,409.4L403.3,408.2L403.6,408.2L403.8,408.1L404.1,407.4L404.3,407.5L404.6,406.9L404.8,406.9L405.1,408.6L405.4,408.6L405.6,408.2L405.9,411.6L406.1,414.8L406.4,415.2L406.6,413.4L406.9,410.6L407.1,410.0L407.4,410.8L407.7,413.7L407.9,415.6L408.2,414.8L408.4,415.4L408.7,416.1L408.9,416.4L409.2,418.7L409.5,420.7L409.7,420.4L410.0,420.7L410.2,422.8L410.5,424.6L410.7,424.4L411.0,421.3L411.3,418.8L411.5,417.1L411.8,414.4L412.0,414.3L412.3,415.7L412.5,417.1L412.8,418.4L413.1,419.1L413.3,418.4L413.6,417.3L413.8,415.7L414.1,412.4L414.3,411.6L414.6,412.3L414.8,411.0L415.1,409.7L415.4,410.7L415.6,411.7L415.9,413.4L416.1,414.1L416.4,415.2L416.6,417.4L416.9,418.2L417.2,418.1L417.4,418.0L417.7,416.7L417.9,418.2L418.2,422.2L418.4,425.0L418.7,426.5L419.0,426.5L419.2,426.0L419.5,427.0L419.7,427.3L420.0,425.5L420.2,425.0L420.5,426.1L420.8,425.5L421.0,424.1L421.3,425.1L421.5,427.2L421.8,428.1L422.0,430.3L422.3,431.3L422.5,429.4L422.8,427.7L423.1,428.2L423.3,428.7L423.6,428.9L423.8,430.9L424.1,431.9L424.3,431.5L424.6,433.6L424.9,436.7L425.1,437.3L425.4,434.0L425.6,431.2L425.9,431.7L426.1,432.3L426.4,432.6L426.7,433.6L426.9,433.0L427.2,431.4L427.4,430.7L427.7,431.2L427.9,430.9L428.2,430.7L428.5,430.8L428.7,430.6L429.0,430.2L429.2,429.8L429.5,432.1L429.7,433.7L430.0,431.2L430.2,430.3L430.5,431.5L430.8,431.9L431.0,433.4L431.3,436.7L431.5,438.8L431.8,438.0L432.0,436.1L432.3,436.0L432.6,437.7L432.8,437.0L433.1,435.7L433.3,437.9L433.6,440.4L433.8,440.1L434.1,438.3L434.4,437.7L434.6,437.6L434.9,437.1L435.1,437.3L435.4,437.1L435.6,437.0L435.9,436.3L436.2,435.5L436.4,437.0L436.7,439.3L436.9,440.1L437.2,440.6L437.4,441.1L437.7,439.0L437.9,436.6L438.2,436.7L438.5,437.8L438.7,437.2L439.0,437.3L439.2,438.8L439.5,437.6L439.7,434.2L440.0,432.7L440.3,432.8L440.5,434.1L440.8,436.0L441.0,436.3L441.3,435.1L441.5,434.7L441.8,436.7L442.1,437.8L442.3,435.7L442.6,433.1L442.8,432.5L443.1,430.4L443.3,427.3L443.6,425.3L443.8,423.3L444.1,421.0L444.4,420.7L444.6,422.3L444.9,423.5L445.1,423.0L445.4,420.8L445.6,419.5L445.9,419.0L446.2,417.2L446.4,415.0L446.7,413.9L446.9,414.9L447.2,416.2L447.4,416.1L447.7,416.1L448.0,415.8L448.2,415.1L448.5,415.4L448.7,416.3L449.0,417.0L449.2,418.4L449.5,420.2L449.8,421.1L450.0,418.3L450.3,415.3L450.5,415.4L450.8,415.3L451.0,414.5L451.3,413.1L451.5,410.5L451.8,408.1L452.1,407.7L452.3,408.3L452.6,408.0L452.8,407.5L453.1,407.1L453.3,406.7L453.6,408.4L453.9,407.9L454.1,406.0L454.4,407.7L454.6,409.4L454.9,410.0L455.1,411.0L455.4,409.4L455.7,408.2L455.9,406.6L456.2,403.3L456.4,401.6L456.7,401.7L456.9,401.9L457.2,403.9L457.5,407.1L457.7,408.3L458.0,409.5L458.2,409.9L458.5,408.3L458.7,408.3L459.0,410.2L459.2,411.3L459.5,411.8L459.8,412.4L460.0,413.7L460.3,415.0L460.5,415.2L460.8,416.6L461.0,417.9L461.3,417.2L461.6,416.3L461.8,416.2L462.1,416.7L462.3,417.9L462.6,418.7L462.8,418.3L463.1,419.1L463.4,421.6L463.6,423.1L463.9,423.1L464.1,424.5L464.4,427.2L464.6,429.9L464.9,431.7L465.2,433.5L465.4,434.9L465.7,435.0L465.9,433.7L466.2,432.9L466.4,432.7L466.7,433.6L466.9,434.8L467.2,434.0L467.5,433.2L467.7,433.5L468.0,433.3L468.2,432.5L468.5,432.2L468.7,433.1L469.0,433.3L469.3,431.8L469.5,431.9L469.8,433.4L470.0,432.5L470.3,431.0L470.5,430.6L470.8,431.2L471.1,430.5L471.3,430.1L471.6,430.6L471.8,429.7L472.1,431.1L472.3,434.3L472.6,437.1L472.9,437.5L473.1,436.0L473.4,436.7L473.6,437.4L473.9,436.3L474.1,436.8L474.4,439.7L474.6,443.2L474.9,444.0L475.2,442.3L475.4,441.7L475.7,441.0L475.9,439.7L476.2,440.6L476.4,438.6L476.7,434.9L477.0,434.4L477.2,435.0L477.5,433.6L477.7,433.1L478.0,433.9L478.2,432.7L478.5,431.8L478.8,433.4L479.0,434.3L479.3,434.4L479.5,434.4L479.8,435.4L480.0,436.1L480.3,434.9L480.6,434.4L480.8,434.9L481.1,435.6L481.3,436.4L481.6,435.7L481.8,435.3L482.1,437.0L482.3,437.0L482.6,437.2L482.9,437.8L483.1,436.9L483.4,438.2L483.6,440.4L483.9,440.6L484.1,441.5L484.4,443.8L484.7,444.2L484.9,444.0L485.2,443.3L485.4,443.4L485.7,446.5L485.9,449.3L486.2,450.3L486.5,449.8L486.7,451.3L487.0,453.4L487.2,451.3L487.5,452.0L487.7,456.3L488.0,456.2L488.3,453.2L488.5,451.7L488.8,451.7L489.0,452.0L489.3,452.8L489.5,454.2L489.8,454.3L490.0,454.3L490.3,455.8L490.6,456.7L490.8,455.0L491.1,453.8L491.3,455.6L491.6,456.7L491.8,457.3L492.1,458.0L492.4,457.4L492.6,457.2L492.9,459.3L493.1,460.1L493.4,458.3L493.6,458.5L493.9,460.1L494.2,460.8L494.4,461.7L494.7,462.0L494.9,460.3L495.2,458.2L495.4,458.3L495.7,460.0L496.0,462.7L496.2,463.8L496.5,465.2L496.7,467.7L497.0,469.7L497.2,471.0L497.5,471.0L497.7,469.0L498.0,467.7L498.3,465.6L498.5,463.0L498.8,459.4L499.0,456.0L499.3,453.6L499.5,450.6L499.8,448.8L500.1,449.7L500.3,451.1L500.6,451.5L500.8,452.4L501.1,453.5L501.3,454.2L501.6,454.7L501.9,456.2L502.1,457.0L502.4,456.8L502.6,456.9L502.9,455.6L503.1,456.0L503.4,458.1L503.7,457.7L503.9,458.2L504.2,458.6L504.4,457.1L504.7,457.0L504.9,457.9L505.2,458.6L505.4,460.2L505.7,461.0L506.0,460.9L506.2,461.9L506.5,461.8L506.7,461.9L507.0,463.8L507.2,465.1L507.5,464.9L507.8,463.7L508.0,464.9L508.3,465.3L508.5,462.1L508.8,457.8L509.0,454.1L509.3,451.8L509.6,449.4L509.8,447.4L510.1,447.9L510.3,448.1L510.6,446.2L510.8,446.3L511.1,449.4L511.3,450.8L511.6,450.1L511.9,450.8L512.1,452.9L512.4,453.9L512.6,453.2L512.9,454.3L513.1,455.9L513.4,456.7L513.7,458.6L513.9,458.8L514.2,458.3L514.4,459.4L514.7,461.1L514.9,460.8L515.2,459.1L515.5,458.8L515.7,460.2L516.0,461.3L516.2,460.6L516.5,459.3L516.7,460.1L517.0,462.3L517.3,464.0L517.5,464.3L517.8,464.2L518.0,464.2L518.3,462.9L518.5,462.4L518.8,463.2L519.0,463.1L519.3,463.8L519.6,464.5L519.8,463.8L520.1,462.2L520.3,459.2L520.6,458.2L520.8,457.8L521.1,457.2L521.4,457.6L521.6,458.1L521.9,458.8L522.1,459.9L522.4,459.6L522.6,459.7L522.9,459.8L523.2,460.7L523.4,463.3L523.7,464.7L523.9,464.8L524.2,464.2L524.4,462.5L524.7,461.4L525.0,461.4L525.2,461.1L525.5,459.6L525.7,458.0L526.0,456.6L526.2,456.3L526.5,458.4L526.7,460.2L527.0,461.5L527.3,461.1L527.5,458.3L527.8,456.4L528.0,456.1L528.3,454.8L528.5,453.0L528.8,451.6L529.1,450.9L529.3,451.7L529.6,452.6L529.8,451.4L530.1,449.2L530.3,447.6L530.6,446.8L530.9,447.8L531.1,449.8L531.4,452.6L531.6,453.7L531.9,451.6L532.1,449.1L532.4,449.7L532.7,450.4L532.9,449.4L533.2,448.4L533.4,448.4L533.7,449.4L533.9,450.7L534.2,450.5L534.4,448.6L534.7,447.6L535.0,446.1L535.2,443.0L535.5,442.7L535.7,443.4L536.0,441.1L536.2,439.2L536.5,440.4L536.8,440.9L537.0,441.0L537.3,442.6L537.5,442.8L537.8,441.2L538.0,440.6L538.3,441.0L538.6,440.2L538.8,441.0L539.1,442.6L539.3,442.7L539.6,443.0L539.8,445.5L540.1,447.0L540.4,446.5L540.6,446.6L540.9,446.6L541.1,446.8L541.4,447.2L541.6,448.4L541.9,450.9L542.1,450.5L542.4,448.3L542.7,449.2L542.9,450.7L543.2,451.6L543.4,451.9L543.7,450.9L543.9,450.4L544.2,452.4L544.5,454.6L544.7,453.8L545.0,450.9L545.2,448.1L545.5,445.9L545.7,446.9L546.0,450.0L546.3,451.0L546.5,450.9L546.8,450.0L547.0,450.7L547.3,452.6L547.5,451.4L547.8,450.4L548.1,451.8L548.3,451.4L548.6,449.8L548.8,450.8L549.1,452.0L549.3,450.1L549.6,448.1L549.8,448.2L550.1,449.3L550.4,447.7L550.6,443.9L550.9,441.3L551.1,441.6L551.4,441.8L551.6,440.1L551.9,440.4L552.2,443.4L552.4,444.0L552.7,444.1L552.9,445.0L553.2,444.7L553.4,444.8L553.7,445.8L554.0,445.1L554.2,445.1L554.5,446.6L554.7,447.3L555.0,446.5L555.2,444.8L555.5,445.6L555.8,448.5L556.0,449.9L556.3,449.9L556.5,451.5L556.8,453.8L557.0,454.2L557.3,452.2L557.5,450.4L557.8,451.7L558.1,453.9L558.3,455.7L558.6,457.0L558.8,457.4L559.1,458.7L559.3,457.4L559.6,455.6L559.9,455.4L560.1,457.1L560.4,458.9L560.6,458.1L560.9,456.8L561.1,456.1L561.4,456.5L561.7,457.2L561.9,458.3L562.2,458.9L562.4,457.9L562.7,456.1L562.9,454.4L563.2,454.2L563.5,453.0L563.7,450.1L564.0,449.6L564.2,449.7L564.5,448.6L564.7,447.4L565.0,447.2L565.2,446.6L565.5,445.0L565.8,443.7L566.0,442.9L566.3,444.1L566.5,446.7L566.8,448.1L567.0,450.4L567.3,454.4L567.6,457.7L567.8,455.5L568.1,450.9L568.3,450.6L568.6,452.2L568.8,451.9L569.1,450.6L569.4,451.5L569.6,454.7L569.9,458.4L570.1,460.7L570.4,464.5L570.6,469.0L570.9,471.0L571.2,471.0L571.4,472.3L571.7,472.7L571.9,474.0L572.2,474.4L572.4,472.6L572.7,471.4L572.9,472.3L573.2,473.3L573.5,474.0L573.7,475.1L574.0,474.5L574.2,474.9L574.5,479.0L574.7,480.7L575.0,479.8L575.3,480.8L575.5,480.7L575.8,479.9L576.0,479.8L576.3,479.8L576.5,478.5L576.8,475.7L577.1,471.8L577.3,468.6L577.6,467.5L577.8,468.0L578.1,468.2L578.3,469.5L578.6,470.4L578.8,470.5L579.1,471.2L579.4,470.4L579.6,469.5L579.9,471.0L580.1,472.5L580.4,472.5L580.6,473.8L580.9,476.1L581.2,477.3L581.4,477.5L581.7,475.9L581.9,474.5L582.2,475.9L582.4,478.9L582.7,479.9L583.0,479.3L583.2,478.1L583.5,477.4L583.7,477.0L584.0,476.7L584.2,476.6L584.5,476.7L584.8,477.7L585.0,477.3L585.3,475.1L585.5,474.1L585.8,475.1L586.0,477.4L586.3,478.2L586.5,477.1L586.8,476.6L587.1,476.9L587.3,477.5L587.6,477.6L587.8,475.3L588.1,474.1L588.3,475.4L588.6,474.7L588.9,473.2L589.1,474.3L589.4,477.6L589.6,480.2L589.9,480.9L590.1,479.8L590.4,479.6L590.7,479.3L590.9,479.0L591.2,481.4L591.4,483.5L591.7,484.1L591.9,484.5L592.2,484.6L592.5,485.8L592.7,485.5L593.0,485.1L593.2,488.1L593.5,490.1L593.7,489.7L594.0,490.2L594.2,490.7L594.5,489.8L594.8,490.6L595.0,492.8L595.3,494.4L595.5,493.7L595.8,492.1L596.0,491.3L596.3,489.4L596.6,485.8L596.8,484.3L597.1,485.2L597.3,484.3L597.6,481.1L597.8,480.6L598.1,481.0L598.4,481.5L598.6,480.6L598.9,479.3L599.1,480.9L599.4,480.9L599.6,477.8L599.9,477.8L600.2,479.5L600.4,478.7L600.7,478.3L600.9,477.1L601.2,475.4L601.4,476.4L601.7,476.8L601.9,477.2L602.2,479.7L602.5,481.3L602.7,482.2L603.0,483.2L603.2,484.5L603.5,485.7L603.7,485.7L604.0,486.0L604.3,487.2L604.5,485.8L604.8,484.9L605.0,487.5L605.3,487.9L605.5,487.5L605.8,489.1L606.1,490.4L606.3,490.2L606.6,491.4L606.8,493.3L607.1,495.0L607.3,496.4L607.6,496.3L607.9,494.9L608.1,494.0L608.4,493.1L608.6,493.0L608.9,494.2L609.1,494.8L609.4,496.2L609.6,497.8L609.9,497.1L610.2,496.3L610.4,496.1L610.7,496.5L610.9,497.8L611.2,499.1L611.4,498.9L611.7,497.8L612.0,497.1L612.2,497.1L612.5,497.5L612.7,497.1L613.0,496.8L613.2,498.2L613.5,500.1L613.8,500.4L614.0,498.5L614.3,497.4L614.5,497.3L614.8,497.3L615.0,498.9L615.3,499.7L615.6,500.3L615.8,500.7L616.1,500.3L616.3,501.9L616.6,504.5L616.8,504.4L617.1,501.8L617.3,501.7L617.6,505.1L617.9,507.1L618.1,506.5L618.4,506.3L618.6,506.7L618.9,506.5L619.1,505.6L619.4,503.5L619.7,503.0L619.9,504.5L620.2,505.6L620.4,505.0L620.7,505.4L620.9,507.9L621.2,508.2L621.5,507.4L621.7,508.8L622.0,510.9L622.2,510.7L622.5,509.5L622.7,509.9L623.0,510.8L623.3,511.8L623.5,512.9L623.8,511.1L624.0,508.7L624.3,508.9L624.5,509.8L624.8,509.6L625.0,509.1L625.3,509.7L625.6,510.6L625.8,510.7L626.1,509.9L626.3,510.2L626.6,509.3L626.8,507.3L627.1,507.9L627.4,508.4L627.6,508.7L627.9,509.4L628.1,509.4L628.4,509.1L628.6,508.7L628.9,509.6L629.2,510.1L629.4,508.5L629.7,507.5L629.9,504.8L630.2,500.7L630.4,496.4L630.7,494.5L631.0,494.4L631.2,492.5L631.5,490.7L631.7,491.2L632.0,489.3L632.2,485.7L632.5,486.2L632.7,488.2L633.0,486.2L633.3,485.3L633.5,485.8L633.8,485.9L634.0,486.9L634.3,486.9L634.5,488.0L634.8,491.5L635.1,494.7L635.3,495.2L635.6,493.2L635.8,493.1L636.1,493.1L636.3,491.9L636.6,490.0L636.9,489.4L637.1,488.7L637.4,486.3L637.6,485.6L637.9,486.9L638.1,488.0L638.4,488.5L638.7,488.3L638.9,488.3L639.2,488.3L639.4,489.1L639.7,490.5L639.9,490.3L640.2,488.7L640.4,487.4L640.7,487.6L641.0,489.7L641.2,491.2L641.5,490.2L641.7,489.4L642.0,489.2L642.2,490.1L642.5,491.4L642.8,493.5L643.0,494.3L643.3,492.2L643.5,492.1L643.8,493.3L644.0,493.1L644.3,494.0L644.6,494.2L644.8,493.2L645.1,493.8L645.3,494.5L645.6,493.5L645.8,493.0L646.1,493.7L646.3,493.8L646.6,493.6L646.9,493.9L647.1,492.4L647.4,491.8L647.6,493.7L647.9,495.6L648.1,496.9L648.4,497.5L648.7,498.9L648.9,498.8L649.2,496.3L649.4,494.8L649.7,495.6L649.9,497.8L650.2,499.1L650.5,497.6L650.7,495.5L651.0,497.7L651.2,502.2L651.5,504.5L651.7,504.7L652.0,504.1L652.3,504.5L652.5,505.5L652.8,504.6L653.0,504.3L653.3,504.6L653.5,503.0L653.8,501.9L654.0,502.7L654.3,503.7L654.6,504.5L654.8,503.3L655.1,501.5L655.3,502.7L655.6,503.8L655.8,502.5L656.1,500.2L656.4,500.2L656.6,499.7L656.9,498.2L657.1,498.6L657.4,498.6L657.6,497.8L657.9,498.4L658.2,498.2L658.4,497.2L658.7,496.1L658.9,495.3L659.2,494.4L659.4,495.7L659.7,497.5L660.0,498.0L660.2,498.5L660.5,498.3L660.7,497.7L661.0,497.3L661.2,497.2L661.5,498.8L661.7,500.7L662.0,501.6L662.3,500.1L662.5,498.8L662.8,499.9L663.0,499.1L663.3,497.9L663.5,498.9L663.8,498.1L664.1,497.3L664.3,498.0L664.6,497.9L664.8,498.5L665.1,498.3L665.3,496.7L665.6,498.0L665.9,500.6L666.1,502.4L666.4,503.5L666.6,502.7L666.9,501.3L667.1,502.5L667.4,504.3L667.7,504.1L667.9,504.2L668.2,505.6L668.4,507.0L668.7,508.7L668.9,507.3L669.2,503.7L669.4,502.7L669.7,502.6L670.0,503.1L670.2,505.2L670.5,506.6L670.7,506.1L671.0,506.2L671.2,507.0L671.5,506.0L671.8,505.5L672.0,506.8L672.3,508.8L672.5,508.6L672.8,505.5L673.0,506.4L673.3,509.9L673.6,510.7L673.8,510.2L674.1,509.6L674.3,509.0L674.6,508.8L674.8,508.4L675.1,508.4L675.4,509.0L675.6,507.8L675.9,505.2L676.1,503.4L676.4,503.8L676.6,502.6L676.9,500.0L677.1,498.6L677.4,495.7L677.7,491.7L677.9,491.2L678.2,492.4L678.4,492.3L678.7,492.4L678.9,494.2L679.2,494.4L679.5,492.4L679.7,492.1L680.0,494.5L680.2,494.6L680.5,491.6L680.7,491.0L681.0,492.8L681.3,493.3L681.5,493.2L681.8,495.8L682.0,498.1L682.3,496.2L682.5,495.6L682.8,496.5L683.1,495.9L683.3,497.6L683.6,499.7L683.8,499.8L684.1,499.4L684.3,497.7L684.6,495.9L684.8,496.7L685.1,498.7L685.4,497.4L685.6,495.3L685.9,495.5L686.1,497.0L686.4,497.9L686.6,497.9L686.9,497.1L687.2,498.5L687.4,502.2L687.7,503.3L687.9,501.4L688.2,499.6L688.4,499.0L688.7,499.2L689.0,498.6L689.2,497.1L689.5,497.2L689.7,498.9L690.0,499.2L690.2,496.8L690.5,495.4L690.8,497.1L691.0,497.7L691.3,497.4L691.5,496.9L691.8,495.8L692.0,496.0L692.3,495.4L692.5,493.4L692.8,491.9L693.1,491.5L693.3,490.2L693.6,488.5L693.8,488.1L694.1,487.4L694.3,487.8L694.6,489.4L694.9,490.4L695.1,489.7L695.4,487.0L695.6,485.6L695.9,486.8L696.1,487.4L696.4,486.1L696.7,484.2L696.9,483.7L697.2,486.1L697.4,487.4L697.7,486.2L697.9,486.3L698.2,488.1L698.5,488.3L698.7,485.6L699.0,484.5L699.2,487.2L699.5,488.6L699.7,487.5L700.0,485.8L700.2,484.6L700.5,485.3L700.8,486.2L701.0,484.3L701.3,482.6L701.5,482.1L701.8,481.7L702.0,481.6L702.3,481.9L702.6,481.5L702.8,479.7L703.1,479.5L703.3,481.8L703.6,481.7L703.8,481.0L704.1,481.4L704.4,482.1L704.6,482.8L704.9,483.2L705.1,486.0L705.4,489.1L705.6,489.4L705.9,488.6L706.2,486.8L706.4,485.5L706.7,486.2L706.9,488.3L707.2,490.7L707.4,492.6L707.7,493.0L707.9,492.9L708.2,494.2L708.5,494.5L708.7,493.8L709.0,494.7L709.2,497.0L709.5,498.3L709.7,497.2L710.0,496.9L710.3,499.2L710.5,500.5L710.8,499.6L711.0,498.6L711.3,498.5L711.5,499.8L711.8,501.6L712.1,503.0L712.3,502.3L712.6,501.2L712.8,502.5L713.1,503.8L713.3,502.4L713.6,502.0L713.8,503.9L714.1,505.1L714.4,505.5L714.6,505.1L714.9,505.1L715.1,506.2L715.4,506.0L715.6,504.8L715.9,503.5L716.2,502.5L716.4,503.5L716.7,505.5L716.9,506.0L717.2,505.1L717.4,505.5L717.7,504.6L718.0,503.3L718.2,504.1L718.5,501.6L718.7,499.9L719.0,503.8L719.2,506.3L719.5,506.9L719.8,508.2L720.0,507.8L720.3,507.8L720.5,508.3L720.8,507.1L721.0,507.3L721.3,508.0L721.5,508.9L721.8,512.2L722.1,513.4L722.3,511.8L722.6,511.5L722.8,512.5L723.1,513.2L723.3,514.1L723.6,515.6L723.9,516.5L724.1,515.8L724.4,514.6L724.6,515.4L724.9,516.2L725.1,513.8L725.4,513.2L725.7,516.5L725.9,519.0L726.2,518.7L726.4,518.0L726.7,517.6L726.9,517.3L727.2,518.2L727.5,518.6L727.7,517.6L728.0,517.1L728.2,518.5L728.5,520.7L728.7,522.2L729.0,523.2L729.2,521.6L729.5,518.9L729.8,520.5L730.0,523.0L730.3,523.0L730.5,522.8L730.8,524.2L731.0,525.3L731.3,523.4L731.6,522.8L731.8,522.3L732.1,520.7L732.3,521.8L732.6,523.8L732.8,523.2L733.1,521.3L733.4,520.1L733.6,520.0L733.9,519.6L734.1,517.9L734.4,517.2L734.6,516.7L734.9,515.0L735.2,515.4L735.4,516.0L735.7,514.7L735.9,515.4L736.2,518.0L736.4,518.0L736.7,517.6L736.9,517.4L737.2,516.0L737.5,516.5L737.7,517.5L738.0,517.6L738.2,518.8L738.5,520.8L738.7,522.0L739.0,520.9L739.3,520.1L739.5,520.8L739.8,520.3L740.0,519.3L740.3,520.3L740.5,520.1L740.8,518.7L741.1,520.8L741.3,522.9L741.6,521.1L741.8,518.9L742.1,518.6L742.3,518.7L742.6,517.7L742.9,516.9L743.1,516.7L743.4,515.6L743.6,512.6L743.9,510.4L744.1,511.8L744.4,513.9L744.6,513.7L744.9,512.6L745.2,511.2L745.4,509.6L745.7,507.5L745.9,503.3L746.2,500.0L746.4,498.2L746.7,497.3L747.0,497.7L747.2,496.2L747.5,494.1L747.7,492.5L748.0,489.3L748.2,484.9L748.5,480.8L748.8,476.6L749.0,473.7L749.3,471.6L749.5,471.1L749.8,471.9L750.0,472.1L750.3,470.1L750.6,466.5L750.8,464.3L751.1,465.1L751.3,466.6L751.6,466.4L751.8,465.9L752.1,466.6L752.3,467.6L752.6,467.2L752.9,468.4L753.1,471.1L753.4,468.6L753.6,464.7L753.9,461.8L754.1,457.0L754.4,450.8L754.7,446.5L754.9,444.3L755.2,441.1L755.4,437.0L755.7,438.3L755.9,435.3L756.2,432.6L756.4,435.3L756.7,438.8L757.0,440.9L757.2,444.7L757.5,448.0L757.7,449.5L758.0,449.7L758.3,450.1L758.5,450.8L758.8,451.7L759.0,451.3L759.3,450.4L759.5,449.4L759.8,447.8L760.0,445.5L760.3,444.4L760.6,444.5L760.8,444.2L761.1,443.8L761.3,444.7L761.6,446.0L761.8,447.6L762.1,448.7L762.4,448.1L762.6,448.2L762.9,448.1L763.1,445.6L763.4,442.2L763.6,441.5L763.9,441.9L764.2,441.6L764.4,440.2L764.7,438.8L764.9,438.0L765.2,438.7L765.4,438.6L765.7,436.1L766.0,435.5L766.2,435.8L766.5,434.5L766.7,433.0L767.0,431.3L767.2,430.2L767.5,430.4L767.7,429.4L768.0,426.5L768.3,424.9L768.5,423.3L768.9,421.1L769.2,417.8L769.4,421.8L769.5,424.2L769.8,424.9L770.1,427.6L770.3,430.0L770.6,433.8L770.8,437.5L771.1,438.5L771.3,438.3L771.6,440.1L771.9,441.4L772.1,441.4L772.4,439.8L772.6,439.0L772.9,439.8L773.1,440.4L773.4,440.4L773.7,439.4L773.9,437.5L774.2,437.1L774.4,437.8L774.7,438.5L774.9,438.2L775.2,435.2L775.4,434.6L775.7,436.6L776.0,435.7L776.2,432.9L776.5,431.1L776.7,431.3L777.0,431.3L777.2,431.5L777.5,434.0L777.8,437.4L778.0,438.6L778.3,437.3L778.5,435.9L778.8,437.0L779.0,439.8L779.3,441.0L779.6,443.2L779.8,444.4L780.1,444.5L780.3,446.6L780.6,449.7L780.8,451.4L781.1,451.0L781.3,449.3L781.6,448.9L781.9,447.9L782.1,445.4L782.4,443.5L782.6,442.8L782.9,440.8L783.1,439.2L783.4,438.4L783.7,438.5L783.9,440.2L784.2,439.5L784.4,436.6L784.7,435.9L784.9,437.7L785.2,436.9L785.5,433.9L785.7,434.2L786.0,436.5L786.2,438.3L786.5,439.0L786.7,440.0L787.0,439.1L787.3,437.0L787.5,437.1L787.8,438.5L788.0,439.6L788.3,440.2L788.5,439.1L788.8,437.8L789.0,439.5L789.3,441.2L789.6,439.2L789.8,437.3L790.1,437.7L790.3,438.8L790.6,439.9L790.8,440.3L791.1,440.7L791.4,440.9L791.6,439.7L791.9,437.8L792.1,436.9L792.4,439.4L792.6,442.9L792.9,444.8L793.2,445.1L793.4,445.2L793.7,446.1L793.9,445.7L794.2,447.8" stroke="#bd1f1f" stroke-width="2.9"/>
</g>
<line x1="53" x2="808.5" y1="580.3" y2="580.3" stroke="#1a1a1a" stroke-width="1.2"/>
<text x="801" y="451.5" class="val">6.35%</text>
<text x="801" y="498" class="val">4.13%</text>
</svg>
<p class="abs note" id="note" style="transform:scaleX(1.063)">Percentage, not seasonally adjusted</p>
<p class="abs by" id="by" style="transform:scaleX(1.0873)">Chart: Realtor.com <span class="bl">•</span> Source: Board of Governors of the Federal Reserve System/Freddie Mac <span class="bl">•</span> Created with Datawrapper</p>
</body></html>
